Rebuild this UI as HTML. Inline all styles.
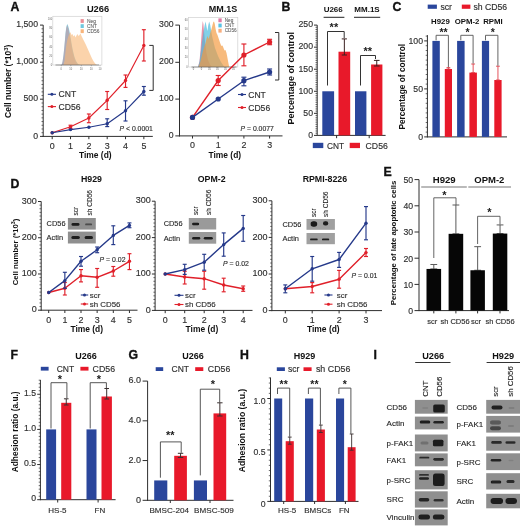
<!DOCTYPE html><html><head><meta charset="utf-8"><style>html,body{margin:0;padding:0;background:#fff;overflow:hidden;}svg{display:block;}</style></head><body><svg width="520" height="526" viewBox="0 0 520 526" font-family='"Liberation Sans", Arial, sans-serif'><defs><filter id="bl" x="-30%" y="-60%" width="160%" height="220%"><feGaussianBlur stdDeviation="0.6"/></filter></defs><rect width="520" height="526" fill="#fff"/>
<text x="10.5" y="11.2" font-size="12.3" font-weight="bold" text-anchor="start" fill="#111" stroke="#111" stroke-width="0.35">A</text>
<text x="98" y="12" font-size="9.3" font-weight="bold" text-anchor="middle" fill="#111">U266</text>
<text x="223" y="12" font-size="9.0" font-weight="bold" text-anchor="middle" fill="#111">MM.1S</text>
<rect x="52.8" y="16.3" width="49.1" height="48.7" fill="#ffffff" stroke="#d0d0d0" stroke-width="0.7"/>
<text x="52.2" y="19.7" font-size="2.6" font-weight="normal" text-anchor="end" fill="#666">100</text>
<text x="52.2" y="29.4" font-size="2.6" font-weight="normal" text-anchor="end" fill="#666">80</text>
<text x="52.2" y="38.4" font-size="2.6" font-weight="normal" text-anchor="end" fill="#666">60</text>
<text x="52.2" y="47.8" font-size="2.6" font-weight="normal" text-anchor="end" fill="#666">40</text>
<text x="52.2" y="57.1" font-size="2.6" font-weight="normal" text-anchor="end" fill="#666">20</text>
<text x="52.2" y="65.9" font-size="2.6" font-weight="normal" text-anchor="end" fill="#666">0</text>
<text x="61.3" y="69.6" font-size="2.6" font-weight="normal" text-anchor="middle" fill="#666">0</text>
<text x="70.8" y="69.6" font-size="2.6" font-weight="normal" text-anchor="middle" fill="#666">10</text>
<text x="81.3" y="69.6" font-size="2.6" font-weight="normal" text-anchor="middle" fill="#666">10</text>
<text x="91.3" y="69.6" font-size="2.6" font-weight="normal" text-anchor="middle" fill="#666">10</text>
<text x="100" y="69.6" font-size="2.6" font-weight="normal" text-anchor="middle" fill="#666">10</text>
<polygon points="61.5,65 62.5,62 63.5,55 64.5,45 65.5,33 66.3,27 67.2,24 68,25.5 69,29 70,34 71,40 72,46 73,51 74.5,57 76,61 78,64 80,65" fill="#6fb2c8" fill-opacity="0.75"/>
<polygon points="61.5,65 62.5,62 63.5,56 64.5,46 65.5,35 66.3,28.5 67,26 67.8,27 68.8,31 70,37 71,43 72,49 73,54 74.5,59 76,62.5 78,65" fill="#d08f96" fill-opacity="0.45"/>
<polygon points="63.5,65 64.5,61 65.5,52 66.5,44 67.5,39 68.5,36 69.5,33.5 70.5,32.3 71.5,35 72.5,34 73.5,36.5 74.5,35 75.5,37.5 76.5,35.5 77.5,34 78.5,36 79.5,35 80.5,33.5 81.5,36 82.5,38 84,41 86,45 88,49.5 90,54 92,58.5 94,62 96,64.5 97,65" fill="#f8b878" fill-opacity="0.62"/>
<line x1="55.5" y1="65" x2="99" y2="65" stroke="#555" stroke-width="0.6"/>
<line x1="61.3" y1="65" x2="61.3" y2="66.2" stroke="#777" stroke-width="0.5"/>
<line x1="70.8" y1="65" x2="70.8" y2="66.2" stroke="#777" stroke-width="0.5"/>
<line x1="81.3" y1="65" x2="81.3" y2="66.2" stroke="#777" stroke-width="0.5"/>
<line x1="91.3" y1="65" x2="91.3" y2="66.2" stroke="#777" stroke-width="0.5"/>
<line x1="100" y1="65" x2="100" y2="66.2" stroke="#777" stroke-width="0.5"/>
<rect x="80.6" y="19.1" width="3.2" height="3.8" fill="#ec8d96" stroke="none" stroke-width="0"/>
<text x="86.9" y="22.75" font-size="4.9" font-weight="normal" text-anchor="start" fill="#555" stroke="#555" stroke-width="0.05">Neg</text>
<rect x="80.6" y="24.2" width="3.2" height="3.8" fill="#70c8df" stroke="none" stroke-width="0"/>
<text x="86.9" y="27.85" font-size="4.9" font-weight="normal" text-anchor="start" fill="#555" stroke="#555" stroke-width="0.05">CNT</text>
<rect x="80.6" y="29.3" width="3.2" height="3.8" fill="#f8b47a" stroke="none" stroke-width="0"/>
<text x="86.9" y="32.95" font-size="4.9" font-weight="normal" text-anchor="start" fill="#555" stroke="#555" stroke-width="0.05">CD56</text>
<line x1="43.2" y1="25.1" x2="43.2" y2="136.9" stroke="#2e2e2e" stroke-width="1.0"/>
<line x1="40" y1="25.1" x2="43.2" y2="25.1" stroke="#2e2e2e" stroke-width="1.0"/>
<text x="38" y="27.31" font-size="8.7" font-weight="normal" text-anchor="end" fill="#303030" stroke="#303030" stroke-width="0.15">1,500</text>
<line x1="40" y1="62.2" x2="43.2" y2="62.2" stroke="#2e2e2e" stroke-width="1.0"/>
<text x="38" y="64.41" font-size="8.7" font-weight="normal" text-anchor="end" fill="#303030" stroke="#303030" stroke-width="0.15">1,000</text>
<line x1="40" y1="99.2" x2="43.2" y2="99.2" stroke="#2e2e2e" stroke-width="1.0"/>
<text x="38" y="101.41" font-size="8.7" font-weight="normal" text-anchor="end" fill="#303030" stroke="#303030" stroke-width="0.15">500</text>
<line x1="40" y1="136.4" x2="43.2" y2="136.4" stroke="#2e2e2e" stroke-width="1.0"/>
<text x="38" y="138.61" font-size="8.7" font-weight="normal" text-anchor="end" fill="#303030" stroke="#303030" stroke-width="0.15">0</text>
<line x1="41.5" y1="132.69" x2="43.2" y2="132.69" stroke="#2e2e2e" stroke-width="0.7"/>
<line x1="41.5" y1="128.98" x2="43.2" y2="128.98" stroke="#2e2e2e" stroke-width="0.7"/>
<line x1="41.5" y1="125.27" x2="43.2" y2="125.27" stroke="#2e2e2e" stroke-width="0.7"/>
<line x1="41.5" y1="121.56" x2="43.2" y2="121.56" stroke="#2e2e2e" stroke-width="0.7"/>
<line x1="41.5" y1="117.85" x2="43.2" y2="117.85" stroke="#2e2e2e" stroke-width="0.7"/>
<line x1="41.5" y1="114.14" x2="43.2" y2="114.14" stroke="#2e2e2e" stroke-width="0.7"/>
<line x1="41.5" y1="110.43" x2="43.2" y2="110.43" stroke="#2e2e2e" stroke-width="0.7"/>
<line x1="41.5" y1="106.72" x2="43.2" y2="106.72" stroke="#2e2e2e" stroke-width="0.7"/>
<line x1="41.5" y1="103.01" x2="43.2" y2="103.01" stroke="#2e2e2e" stroke-width="0.7"/>
<line x1="41.5" y1="95.59" x2="43.2" y2="95.59" stroke="#2e2e2e" stroke-width="0.7"/>
<line x1="41.5" y1="91.88" x2="43.2" y2="91.88" stroke="#2e2e2e" stroke-width="0.7"/>
<line x1="41.5" y1="88.17" x2="43.2" y2="88.17" stroke="#2e2e2e" stroke-width="0.7"/>
<line x1="41.5" y1="84.46" x2="43.2" y2="84.46" stroke="#2e2e2e" stroke-width="0.7"/>
<line x1="41.5" y1="80.75" x2="43.2" y2="80.75" stroke="#2e2e2e" stroke-width="0.7"/>
<line x1="41.5" y1="77.04" x2="43.2" y2="77.04" stroke="#2e2e2e" stroke-width="0.7"/>
<line x1="41.5" y1="73.33" x2="43.2" y2="73.33" stroke="#2e2e2e" stroke-width="0.7"/>
<line x1="41.5" y1="69.62" x2="43.2" y2="69.62" stroke="#2e2e2e" stroke-width="0.7"/>
<line x1="41.5" y1="65.91" x2="43.2" y2="65.91" stroke="#2e2e2e" stroke-width="0.7"/>
<line x1="41.5" y1="58.49" x2="43.2" y2="58.49" stroke="#2e2e2e" stroke-width="0.7"/>
<line x1="41.5" y1="54.78" x2="43.2" y2="54.78" stroke="#2e2e2e" stroke-width="0.7"/>
<line x1="41.5" y1="51.07" x2="43.2" y2="51.07" stroke="#2e2e2e" stroke-width="0.7"/>
<line x1="41.5" y1="47.36" x2="43.2" y2="47.36" stroke="#2e2e2e" stroke-width="0.7"/>
<line x1="41.5" y1="43.65" x2="43.2" y2="43.65" stroke="#2e2e2e" stroke-width="0.7"/>
<line x1="41.5" y1="39.94" x2="43.2" y2="39.94" stroke="#2e2e2e" stroke-width="0.7"/>
<line x1="41.5" y1="36.23" x2="43.2" y2="36.23" stroke="#2e2e2e" stroke-width="0.7"/>
<line x1="41.5" y1="32.52" x2="43.2" y2="32.52" stroke="#2e2e2e" stroke-width="0.7"/>
<line x1="41.5" y1="28.81" x2="43.2" y2="28.81" stroke="#2e2e2e" stroke-width="0.7"/>
<line x1="42.5" y1="136.4" x2="152.8" y2="136.4" stroke="#2e2e2e" stroke-width="1.0"/>
<line x1="52.2" y1="136.4" x2="52.2" y2="139.2" stroke="#2e2e2e" stroke-width="1.0"/>
<text x="52.2" y="148.59" font-size="8.9" font-weight="normal" text-anchor="middle" fill="#303030" stroke="#303030" stroke-width="0.15">0</text>
<line x1="70.53" y1="136.4" x2="70.53" y2="139.2" stroke="#2e2e2e" stroke-width="1.0"/>
<text x="70.53" y="148.59" font-size="8.9" font-weight="normal" text-anchor="middle" fill="#303030" stroke="#303030" stroke-width="0.15">1</text>
<line x1="88.86" y1="136.4" x2="88.86" y2="139.2" stroke="#2e2e2e" stroke-width="1.0"/>
<text x="88.86" y="148.59" font-size="8.9" font-weight="normal" text-anchor="middle" fill="#303030" stroke="#303030" stroke-width="0.15">2</text>
<line x1="107.19" y1="136.4" x2="107.19" y2="139.2" stroke="#2e2e2e" stroke-width="1.0"/>
<text x="107.19" y="148.59" font-size="8.9" font-weight="normal" text-anchor="middle" fill="#303030" stroke="#303030" stroke-width="0.15">3</text>
<line x1="125.52" y1="136.4" x2="125.52" y2="139.2" stroke="#2e2e2e" stroke-width="1.0"/>
<text x="125.52" y="148.59" font-size="8.9" font-weight="normal" text-anchor="middle" fill="#303030" stroke="#303030" stroke-width="0.15">4</text>
<line x1="143.85" y1="136.4" x2="143.85" y2="139.2" stroke="#2e2e2e" stroke-width="1.0"/>
<text x="143.85" y="148.59" font-size="8.9" font-weight="normal" text-anchor="middle" fill="#303030" stroke="#303030" stroke-width="0.15">5</text>
<text x="95.3" y="158.1" font-size="8.45" font-weight="bold" text-anchor="middle" fill="#111">Time (d)</text>
<text x="11.3" y="117.9" font-size="8.5" font-weight="bold" text-anchor="start" fill="#111" transform="rotate(-90 11.3 117.9)">Cell number (*10<tspan font-size="5.8" dy="-3.2">3</tspan><tspan dy="3.2">)</tspan></text>
<polyline points="52.2,132.7 70.53,126.8 88.86,118 107.19,100.3 125.52,80.5 143.85,45.4" fill="none" stroke="#e0202a" stroke-width="1.15" stroke-linejoin="round"/>
<circle cx="52.2" cy="132.7" r="1.7" fill="#e0202a"/>
<line x1="70.53" y1="125.2" x2="70.53" y2="128.4" stroke="#e0202a" stroke-width="1.15"/>
<line x1="68.53" y1="125.2" x2="72.53" y2="125.2" stroke="#e0202a" stroke-width="1.15"/>
<line x1="68.53" y1="128.4" x2="72.53" y2="128.4" stroke="#e0202a" stroke-width="1.15"/>
<circle cx="70.53" cy="126.8" r="1.7" fill="#e0202a"/>
<line x1="88.86" y1="114" x2="88.86" y2="122.7" stroke="#e0202a" stroke-width="1.15"/>
<line x1="86.86" y1="114" x2="90.86" y2="114" stroke="#e0202a" stroke-width="1.15"/>
<line x1="86.86" y1="122.7" x2="90.86" y2="122.7" stroke="#e0202a" stroke-width="1.15"/>
<circle cx="88.86" cy="118" r="1.7" fill="#e0202a"/>
<line x1="107.19" y1="91.5" x2="107.19" y2="109.5" stroke="#e0202a" stroke-width="1.15"/>
<line x1="105.19" y1="91.5" x2="109.19" y2="91.5" stroke="#e0202a" stroke-width="1.15"/>
<line x1="105.19" y1="109.5" x2="109.19" y2="109.5" stroke="#e0202a" stroke-width="1.15"/>
<circle cx="107.19" cy="100.3" r="1.7" fill="#e0202a"/>
<line x1="125.52" y1="75" x2="125.52" y2="87.4" stroke="#e0202a" stroke-width="1.15"/>
<line x1="123.52" y1="75" x2="127.52" y2="75" stroke="#e0202a" stroke-width="1.15"/>
<line x1="123.52" y1="87.4" x2="127.52" y2="87.4" stroke="#e0202a" stroke-width="1.15"/>
<circle cx="125.52" cy="80.5" r="1.7" fill="#e0202a"/>
<line x1="143.85" y1="29.7" x2="143.85" y2="61" stroke="#e0202a" stroke-width="1.15"/>
<line x1="141.85" y1="29.7" x2="145.85" y2="29.7" stroke="#e0202a" stroke-width="1.15"/>
<line x1="141.85" y1="61" x2="145.85" y2="61" stroke="#e0202a" stroke-width="1.15"/>
<circle cx="143.85" cy="45.4" r="1.7" fill="#e0202a"/>
<polyline points="52.2,132.7 70.53,129.6 88.86,127.3 107.19,123.8 125.52,110.7 143.85,91.5" fill="none" stroke="#25398a" stroke-width="1.15" stroke-linejoin="round"/>
<circle cx="52.2" cy="132.7" r="1.7" fill="#25398a"/>
<circle cx="70.53" cy="129.6" r="1.7" fill="#25398a"/>
<circle cx="88.86" cy="127.3" r="1.7" fill="#25398a"/>
<line x1="107.19" y1="118.8" x2="107.19" y2="126.6" stroke="#25398a" stroke-width="1.15"/>
<line x1="105.19" y1="118.8" x2="109.19" y2="118.8" stroke="#25398a" stroke-width="1.15"/>
<line x1="105.19" y1="126.6" x2="109.19" y2="126.6" stroke="#25398a" stroke-width="1.15"/>
<circle cx="107.19" cy="123.8" r="1.7" fill="#25398a"/>
<line x1="125.52" y1="100.8" x2="125.52" y2="121" stroke="#25398a" stroke-width="1.15"/>
<line x1="123.52" y1="100.8" x2="127.52" y2="100.8" stroke="#25398a" stroke-width="1.15"/>
<line x1="123.52" y1="121" x2="127.52" y2="121" stroke="#25398a" stroke-width="1.15"/>
<circle cx="125.52" cy="110.7" r="1.7" fill="#25398a"/>
<line x1="143.85" y1="86.5" x2="143.85" y2="95.2" stroke="#25398a" stroke-width="1.15"/>
<line x1="141.85" y1="86.5" x2="145.85" y2="86.5" stroke="#25398a" stroke-width="1.15"/>
<line x1="141.85" y1="95.2" x2="145.85" y2="95.2" stroke="#25398a" stroke-width="1.15"/>
<circle cx="143.85" cy="91.5" r="1.7" fill="#25398a"/>
<line x1="47.8" y1="94.3" x2="56" y2="94.3" stroke="#25398a" stroke-width="1.1"/>
<circle cx="51.9" cy="94.3" r="1.5" fill="#25398a"/>
<text x="58.6" y="97.38" font-size="8.6" font-weight="normal" text-anchor="start" fill="#303030" stroke="#303030" stroke-width="0.15">CNT</text>
<line x1="47.8" y1="106.6" x2="56" y2="106.6" stroke="#e0202a" stroke-width="1.1"/>
<circle cx="51.9" cy="106.6" r="1.5" fill="#e0202a"/>
<text x="58.6" y="109.68" font-size="8.6" font-weight="normal" text-anchor="start" fill="#303030" stroke="#303030" stroke-width="0.15">CD56</text>
<text x="119.5" y="131.15" font-size="6.85" font-weight="normal" text-anchor="start" fill="#303030" stroke="#303030" stroke-width="0.15"><tspan font-style="italic">P</tspan> &lt; 0.0001</text>
<polyline points="149.3,45.4 153.2,45.4 153.2,90.4 149.3,90.4" fill="none" stroke="#2e2e2e" stroke-width="1.0" stroke-linejoin="round"/>
<rect x="188.4" y="17.4" width="49.4" height="49.6" fill="#ffffff" stroke="#d0d0d0" stroke-width="0.7"/>
<text x="187.6" y="20.7" font-size="2.6" font-weight="normal" text-anchor="end" fill="#666">60</text>
<text x="187.6" y="30.1" font-size="2.6" font-weight="normal" text-anchor="end" fill="#666">50</text>
<text x="187.6" y="39.5" font-size="2.6" font-weight="normal" text-anchor="end" fill="#666">40</text>
<text x="187.6" y="48.9" font-size="2.6" font-weight="normal" text-anchor="end" fill="#666">30</text>
<text x="187.6" y="58.3" font-size="2.6" font-weight="normal" text-anchor="end" fill="#666">20</text>
<text x="187.6" y="67.7" font-size="2.6" font-weight="normal" text-anchor="end" fill="#666">0</text>
<text x="193.5" y="70" font-size="2.6" font-weight="normal" text-anchor="middle" fill="#666">0</text>
<text x="201.5" y="70" font-size="2.6" font-weight="normal" text-anchor="middle" fill="#666">0</text>
<text x="209.5" y="70" font-size="2.6" font-weight="normal" text-anchor="middle" fill="#666">10</text>
<text x="217.5" y="70" font-size="2.6" font-weight="normal" text-anchor="middle" fill="#666">10</text>
<text x="225.5" y="70" font-size="2.6" font-weight="normal" text-anchor="middle" fill="#666">10</text>
<text x="233.5" y="70" font-size="2.6" font-weight="normal" text-anchor="middle" fill="#666">10</text>
<polygon points="198,67 199.5,61 200.5,50 201.3,38 202.1,27 202.7,21 203.4,24 204.2,33 205.2,44 206.5,53 208,60 210,64.5 212,67" fill="#e0708e" fill-opacity="0.75"/>
<polygon points="198,67 199.5,62 200.8,52 202,42 203.3,33 204.5,26 205.6,21.5 206.6,27 207.4,31 208.3,25 209.2,21.5 210.2,25 211.2,31 212.3,37 213.5,42 215,48 216.5,52 218,56 219.5,59 221,62 223,65 224.5,67" fill="#3fb8dc" fill-opacity="0.65"/>
<polygon points="198.5,67 200,63 201.5,57 203,51 204.5,46 205.5,43 206.5,39 207.5,36 208.5,39 209.5,36 210.5,32 211.5,29 212.5,25 213.3,22 214,21.5 214.8,24 215.6,29 216.5,33 217.5,35 218.5,38 219.5,41 220.5,44 221.5,46 222.5,45.5 223.5,48 224.5,50.5 225.5,50 226.5,53 227.3,57 228.2,62 229.2,67" fill="#f39a3e" fill-opacity="0.68"/>
<line x1="191.5" y1="67" x2="236.5" y2="67" stroke="#555" stroke-width="0.6"/>
<line x1="193.5" y1="67" x2="193.5" y2="68.2" stroke="#777" stroke-width="0.5"/>
<line x1="201.5" y1="67" x2="201.5" y2="68.2" stroke="#777" stroke-width="0.5"/>
<line x1="209.5" y1="67" x2="209.5" y2="68.2" stroke="#777" stroke-width="0.5"/>
<line x1="217.5" y1="67" x2="217.5" y2="68.2" stroke="#777" stroke-width="0.5"/>
<line x1="225.5" y1="67" x2="225.5" y2="68.2" stroke="#777" stroke-width="0.5"/>
<line x1="233.5" y1="67" x2="233.5" y2="68.2" stroke="#777" stroke-width="0.5"/>
<rect x="218.4" y="18.4" width="3.3" height="3.8" fill="#e07aa4" stroke="none" stroke-width="0"/>
<text x="224.7" y="21.98" font-size="4.7" font-weight="normal" text-anchor="start" fill="#555" stroke="#555" stroke-width="0.05">Neg</text>
<rect x="218.4" y="23.6" width="3.3" height="3.8" fill="#58c2e4" stroke="none" stroke-width="0"/>
<text x="224.7" y="27.18" font-size="4.7" font-weight="normal" text-anchor="start" fill="#555" stroke="#555" stroke-width="0.05">CNT</text>
<rect x="218.4" y="28.8" width="3.3" height="3.8" fill="#f8ae7e" stroke="none" stroke-width="0"/>
<text x="224.7" y="32.38" font-size="4.7" font-weight="normal" text-anchor="start" fill="#555" stroke="#555" stroke-width="0.05">CD56</text>
<line x1="179.5" y1="25.1" x2="179.5" y2="136.4" stroke="#2e2e2e" stroke-width="1.0"/>
<line x1="175.3" y1="25.1" x2="179.5" y2="25.1" stroke="#2e2e2e" stroke-width="1.0"/>
<text x="173.6" y="27.21" font-size="8.7" font-weight="normal" text-anchor="end" fill="#303030" stroke="#303030" stroke-width="0.15">300</text>
<line x1="175.3" y1="62.3" x2="179.5" y2="62.3" stroke="#2e2e2e" stroke-width="1.0"/>
<text x="173.6" y="64.41" font-size="8.7" font-weight="normal" text-anchor="end" fill="#303030" stroke="#303030" stroke-width="0.15">200</text>
<line x1="175.3" y1="99.1" x2="179.5" y2="99.1" stroke="#2e2e2e" stroke-width="1.0"/>
<text x="173.6" y="101.21" font-size="8.7" font-weight="normal" text-anchor="end" fill="#303030" stroke="#303030" stroke-width="0.15">100</text>
<line x1="175.3" y1="135.9" x2="179.5" y2="135.9" stroke="#2e2e2e" stroke-width="1.0"/>
<text x="173.6" y="138.01" font-size="8.7" font-weight="normal" text-anchor="end" fill="#303030" stroke="#303030" stroke-width="0.15">0</text>
<line x1="178.9" y1="135.9" x2="282.5" y2="135.9" stroke="#2e2e2e" stroke-width="1.0"/>
<line x1="192.5" y1="135.9" x2="192.5" y2="138.5" stroke="#2e2e2e" stroke-width="1.0"/>
<text x="192.5" y="147.79" font-size="8.9" font-weight="normal" text-anchor="middle" fill="#303030" stroke="#303030" stroke-width="0.15">0</text>
<line x1="218.2" y1="135.9" x2="218.2" y2="138.5" stroke="#2e2e2e" stroke-width="1.0"/>
<text x="218.2" y="147.79" font-size="8.9" font-weight="normal" text-anchor="middle" fill="#303030" stroke="#303030" stroke-width="0.15">1</text>
<line x1="243.9" y1="135.9" x2="243.9" y2="138.5" stroke="#2e2e2e" stroke-width="1.0"/>
<text x="243.9" y="147.79" font-size="8.9" font-weight="normal" text-anchor="middle" fill="#303030" stroke="#303030" stroke-width="0.15">2</text>
<line x1="269.6" y1="135.9" x2="269.6" y2="138.5" stroke="#2e2e2e" stroke-width="1.0"/>
<text x="269.6" y="147.79" font-size="8.9" font-weight="normal" text-anchor="middle" fill="#303030" stroke="#303030" stroke-width="0.15">3</text>
<text x="224.8" y="158.3" font-size="8.45" font-weight="bold" text-anchor="middle" fill="#111">Time (d)</text>
<polyline points="192.5,117.4 218.2,80.5 243.9,55 269.6,42" fill="none" stroke="#e0202a" stroke-width="1.4" stroke-linejoin="round"/>
<circle cx="192.5" cy="117.4" r="2.6" fill="#e0202a"/>
<line x1="218.2" y1="75.5" x2="218.2" y2="85.5" stroke="#e0202a" stroke-width="1.15"/>
<line x1="215.7" y1="75.5" x2="220.7" y2="75.5" stroke="#e0202a" stroke-width="1.15"/>
<line x1="215.7" y1="85.5" x2="220.7" y2="85.5" stroke="#e0202a" stroke-width="1.15"/>
<circle cx="218.2" cy="80.5" r="2.6" fill="#e0202a"/>
<line x1="243.9" y1="44" x2="243.9" y2="65.8" stroke="#e0202a" stroke-width="1.15"/>
<line x1="241.4" y1="44" x2="246.4" y2="44" stroke="#e0202a" stroke-width="1.15"/>
<line x1="241.4" y1="65.8" x2="246.4" y2="65.8" stroke="#e0202a" stroke-width="1.15"/>
<circle cx="243.9" cy="55" r="2.6" fill="#e0202a"/>
<line x1="269.6" y1="39.3" x2="269.6" y2="44.7" stroke="#e0202a" stroke-width="1.15"/>
<line x1="267.1" y1="39.3" x2="272.1" y2="39.3" stroke="#e0202a" stroke-width="1.15"/>
<line x1="267.1" y1="44.7" x2="272.1" y2="44.7" stroke="#e0202a" stroke-width="1.15"/>
<circle cx="269.6" cy="42" r="2.6" fill="#e0202a"/>
<polyline points="192.5,117.4 218.2,99 243.9,80.7 269.6,72" fill="none" stroke="#25398a" stroke-width="1.4" stroke-linejoin="round"/>
<circle cx="192.5" cy="117.4" r="2.6" fill="#25398a"/>
<circle cx="218.2" cy="99" r="2.6" fill="#25398a"/>
<line x1="243.9" y1="77.2" x2="243.9" y2="85.8" stroke="#25398a" stroke-width="1.15"/>
<line x1="241.4" y1="77.2" x2="246.4" y2="77.2" stroke="#25398a" stroke-width="1.15"/>
<line x1="241.4" y1="85.8" x2="246.4" y2="85.8" stroke="#25398a" stroke-width="1.15"/>
<circle cx="243.9" cy="80.7" r="2.6" fill="#25398a"/>
<line x1="269.6" y1="69" x2="269.6" y2="75" stroke="#25398a" stroke-width="1.15"/>
<line x1="267.1" y1="69" x2="272.1" y2="69" stroke="#25398a" stroke-width="1.15"/>
<line x1="267.1" y1="75" x2="272.1" y2="75" stroke="#25398a" stroke-width="1.15"/>
<circle cx="269.6" cy="72" r="2.6" fill="#25398a"/>
<line x1="238" y1="94.5" x2="246" y2="94.5" stroke="#25398a" stroke-width="1.1"/>
<circle cx="242" cy="94.5" r="1.5" fill="#25398a"/>
<text x="248.2" y="97.58" font-size="8.6" font-weight="normal" text-anchor="start" fill="#303030" stroke="#303030" stroke-width="0.15">CNT</text>
<line x1="238" y1="107.5" x2="246" y2="107.5" stroke="#e0202a" stroke-width="1.1"/>
<circle cx="242" cy="107.5" r="1.5" fill="#e0202a"/>
<text x="248.2" y="110.58" font-size="8.6" font-weight="normal" text-anchor="start" fill="#303030" stroke="#303030" stroke-width="0.15">CD56</text>
<text x="240.5" y="131.15" font-size="6.85" font-weight="normal" text-anchor="start" fill="#303030" stroke="#303030" stroke-width="0.15"><tspan font-style="italic">P</tspan> = 0.0077</text>
<polyline points="275,32.5 278.8,32.5 278.8,80 275,80" fill="none" stroke="#2e2e2e" stroke-width="1.0" stroke-linejoin="round"/>
<text x="281.4" y="10.9" font-size="12.3" font-weight="bold" text-anchor="start" fill="#111" stroke="#111" stroke-width="0.35">B</text>
<text x="333.2" y="12.2" font-size="8.0" font-weight="bold" text-anchor="middle" fill="#111">U266</text>
<text x="367" y="12.2" font-size="8.0" font-weight="bold" text-anchor="middle" fill="#111">MM.1S</text>
<line x1="323.6" y1="17.3" x2="344.4" y2="17.3" stroke="#222" stroke-width="1.0"/>
<line x1="354" y1="17.3" x2="380.2" y2="17.3" stroke="#222" stroke-width="1.0"/>
<line x1="317.2" y1="25.1" x2="317.2" y2="135.9" stroke="#2e2e2e" stroke-width="1.0"/>
<line x1="314" y1="25.1" x2="317.2" y2="25.1" stroke="#2e2e2e" stroke-width="1.0"/>
<text x="313" y="27.41" font-size="8.7" font-weight="normal" text-anchor="end" fill="#303030" stroke="#303030" stroke-width="0.15">250</text>
<line x1="314" y1="47.16" x2="317.2" y2="47.16" stroke="#2e2e2e" stroke-width="1.0"/>
<text x="313" y="49.47" font-size="8.7" font-weight="normal" text-anchor="end" fill="#303030" stroke="#303030" stroke-width="0.15">200</text>
<line x1="314" y1="69.22" x2="317.2" y2="69.22" stroke="#2e2e2e" stroke-width="1.0"/>
<text x="313" y="71.53" font-size="8.7" font-weight="normal" text-anchor="end" fill="#303030" stroke="#303030" stroke-width="0.15">150</text>
<line x1="314" y1="91.28" x2="317.2" y2="91.28" stroke="#2e2e2e" stroke-width="1.0"/>
<text x="313" y="93.59" font-size="8.7" font-weight="normal" text-anchor="end" fill="#303030" stroke="#303030" stroke-width="0.15">100</text>
<line x1="314" y1="113.34" x2="317.2" y2="113.34" stroke="#2e2e2e" stroke-width="1.0"/>
<text x="313" y="115.65" font-size="8.7" font-weight="normal" text-anchor="end" fill="#303030" stroke="#303030" stroke-width="0.15">50</text>
<line x1="314" y1="135.4" x2="317.2" y2="135.4" stroke="#2e2e2e" stroke-width="1.0"/>
<text x="313" y="137.71" font-size="8.7" font-weight="normal" text-anchor="end" fill="#303030" stroke="#303030" stroke-width="0.15">0</text>
<line x1="315.5" y1="133.19" x2="317.2" y2="133.19" stroke="#2e2e2e" stroke-width="0.7"/>
<line x1="315.5" y1="130.99" x2="317.2" y2="130.99" stroke="#2e2e2e" stroke-width="0.7"/>
<line x1="315.5" y1="128.78" x2="317.2" y2="128.78" stroke="#2e2e2e" stroke-width="0.7"/>
<line x1="315.5" y1="126.58" x2="317.2" y2="126.58" stroke="#2e2e2e" stroke-width="0.7"/>
<line x1="315.5" y1="124.37" x2="317.2" y2="124.37" stroke="#2e2e2e" stroke-width="0.7"/>
<line x1="315.5" y1="122.16" x2="317.2" y2="122.16" stroke="#2e2e2e" stroke-width="0.7"/>
<line x1="315.5" y1="119.96" x2="317.2" y2="119.96" stroke="#2e2e2e" stroke-width="0.7"/>
<line x1="315.5" y1="117.75" x2="317.2" y2="117.75" stroke="#2e2e2e" stroke-width="0.7"/>
<line x1="315.5" y1="115.55" x2="317.2" y2="115.55" stroke="#2e2e2e" stroke-width="0.7"/>
<line x1="315.5" y1="111.13" x2="317.2" y2="111.13" stroke="#2e2e2e" stroke-width="0.7"/>
<line x1="315.5" y1="108.93" x2="317.2" y2="108.93" stroke="#2e2e2e" stroke-width="0.7"/>
<line x1="315.5" y1="106.72" x2="317.2" y2="106.72" stroke="#2e2e2e" stroke-width="0.7"/>
<line x1="315.5" y1="104.52" x2="317.2" y2="104.52" stroke="#2e2e2e" stroke-width="0.7"/>
<line x1="315.5" y1="102.31" x2="317.2" y2="102.31" stroke="#2e2e2e" stroke-width="0.7"/>
<line x1="315.5" y1="100.1" x2="317.2" y2="100.1" stroke="#2e2e2e" stroke-width="0.7"/>
<line x1="315.5" y1="97.9" x2="317.2" y2="97.9" stroke="#2e2e2e" stroke-width="0.7"/>
<line x1="315.5" y1="95.69" x2="317.2" y2="95.69" stroke="#2e2e2e" stroke-width="0.7"/>
<line x1="315.5" y1="93.49" x2="317.2" y2="93.49" stroke="#2e2e2e" stroke-width="0.7"/>
<line x1="315.5" y1="89.07" x2="317.2" y2="89.07" stroke="#2e2e2e" stroke-width="0.7"/>
<line x1="315.5" y1="86.87" x2="317.2" y2="86.87" stroke="#2e2e2e" stroke-width="0.7"/>
<line x1="315.5" y1="84.66" x2="317.2" y2="84.66" stroke="#2e2e2e" stroke-width="0.7"/>
<line x1="315.5" y1="82.46" x2="317.2" y2="82.46" stroke="#2e2e2e" stroke-width="0.7"/>
<line x1="315.5" y1="80.25" x2="317.2" y2="80.25" stroke="#2e2e2e" stroke-width="0.7"/>
<line x1="315.5" y1="78.04" x2="317.2" y2="78.04" stroke="#2e2e2e" stroke-width="0.7"/>
<line x1="315.5" y1="75.84" x2="317.2" y2="75.84" stroke="#2e2e2e" stroke-width="0.7"/>
<line x1="315.5" y1="73.63" x2="317.2" y2="73.63" stroke="#2e2e2e" stroke-width="0.7"/>
<line x1="315.5" y1="71.43" x2="317.2" y2="71.43" stroke="#2e2e2e" stroke-width="0.7"/>
<line x1="315.5" y1="67.01" x2="317.2" y2="67.01" stroke="#2e2e2e" stroke-width="0.7"/>
<line x1="315.5" y1="64.81" x2="317.2" y2="64.81" stroke="#2e2e2e" stroke-width="0.7"/>
<line x1="315.5" y1="62.6" x2="317.2" y2="62.6" stroke="#2e2e2e" stroke-width="0.7"/>
<line x1="315.5" y1="60.4" x2="317.2" y2="60.4" stroke="#2e2e2e" stroke-width="0.7"/>
<line x1="315.5" y1="58.19" x2="317.2" y2="58.19" stroke="#2e2e2e" stroke-width="0.7"/>
<line x1="315.5" y1="55.98" x2="317.2" y2="55.98" stroke="#2e2e2e" stroke-width="0.7"/>
<line x1="315.5" y1="53.78" x2="317.2" y2="53.78" stroke="#2e2e2e" stroke-width="0.7"/>
<line x1="315.5" y1="51.57" x2="317.2" y2="51.57" stroke="#2e2e2e" stroke-width="0.7"/>
<line x1="315.5" y1="49.37" x2="317.2" y2="49.37" stroke="#2e2e2e" stroke-width="0.7"/>
<line x1="315.5" y1="44.95" x2="317.2" y2="44.95" stroke="#2e2e2e" stroke-width="0.7"/>
<line x1="315.5" y1="42.75" x2="317.2" y2="42.75" stroke="#2e2e2e" stroke-width="0.7"/>
<line x1="315.5" y1="40.54" x2="317.2" y2="40.54" stroke="#2e2e2e" stroke-width="0.7"/>
<line x1="315.5" y1="38.34" x2="317.2" y2="38.34" stroke="#2e2e2e" stroke-width="0.7"/>
<line x1="315.5" y1="36.13" x2="317.2" y2="36.13" stroke="#2e2e2e" stroke-width="0.7"/>
<line x1="315.5" y1="33.92" x2="317.2" y2="33.92" stroke="#2e2e2e" stroke-width="0.7"/>
<line x1="315.5" y1="31.72" x2="317.2" y2="31.72" stroke="#2e2e2e" stroke-width="0.7"/>
<line x1="315.5" y1="29.51" x2="317.2" y2="29.51" stroke="#2e2e2e" stroke-width="0.7"/>
<line x1="315.5" y1="27.31" x2="317.2" y2="27.31" stroke="#2e2e2e" stroke-width="0.7"/>
<line x1="317.2" y1="135.4" x2="385.6" y2="135.4" stroke="#2e2e2e" stroke-width="1.0"/>
<text x="293.7" y="124.6" font-size="9.0" font-weight="bold" text-anchor="start" fill="#111" transform="rotate(-90 293.7 124.6)">Percentage of control</text>
<rect x="322.3" y="91.28" width="11.8" height="44.12" fill="#2a469c" stroke="none" stroke-width="0"/>
<rect x="338.5" y="51.7" width="11.7" height="83.7" fill="#e8192a" stroke="none" stroke-width="0"/>
<rect x="355" y="91.28" width="11.4" height="44.12" fill="#2a469c" stroke="none" stroke-width="0"/>
<rect x="371.1" y="64.5" width="11.3" height="70.9" fill="#e8192a" stroke="none" stroke-width="0"/>
<line x1="344.35" y1="38.9" x2="344.35" y2="55" stroke="#3a2020" stroke-width="1.0"/>
<line x1="341.75" y1="38.9" x2="346.95" y2="38.9" stroke="#3a2020" stroke-width="1.0"/>
<line x1="341.75" y1="55" x2="346.95" y2="55" stroke="#3a2020" stroke-width="1.0"/>
<line x1="376.75" y1="60.4" x2="376.75" y2="66" stroke="#3a2020" stroke-width="1.0"/>
<line x1="373.95" y1="60.4" x2="379.55" y2="60.4" stroke="#3a2020" stroke-width="1.0"/>
<line x1="373.95" y1="66" x2="379.55" y2="66" stroke="#3a2020" stroke-width="1.0"/>
<polyline points="327.5,85.5 327.5,31.5 344.2,31.5 344.2,38" fill="none" stroke="#333" stroke-width="1.0" stroke-linejoin="round"/>
<polyline points="360.5,85.5 360.5,55.5 375.5,55.5 375.5,59" fill="none" stroke="#333" stroke-width="1.0" stroke-linejoin="round"/>
<text x="333.9" y="31.36" font-size="11.0" font-weight="bold" text-anchor="middle" fill="#1a1a1a">**</text>
<text x="367.7" y="54.96" font-size="11.0" font-weight="bold" text-anchor="middle" fill="#1a1a1a">**</text>
<line x1="336.6" y1="135.4" x2="336.6" y2="138.2" stroke="#2e2e2e" stroke-width="1.0"/>
<line x1="369.2" y1="135.4" x2="369.2" y2="138.2" stroke="#2e2e2e" stroke-width="1.0"/>
<rect x="312.8" y="142.8" width="10.5" height="5.3" fill="#2a469c" stroke="none" stroke-width="0"/>
<text x="327" y="148.77" font-size="8.3" font-weight="normal" text-anchor="start" fill="#303030" stroke="#303030" stroke-width="0.15">CNT</text>
<rect x="349.7" y="142.8" width="10.3" height="5.3" fill="#e8192a" stroke="none" stroke-width="0"/>
<text x="365.6" y="148.91" font-size="8.7" font-weight="normal" text-anchor="start" fill="#303030" stroke="#303030" stroke-width="0.15">CD56</text>
<text x="392.6" y="10.9" font-size="12.3" font-weight="bold" text-anchor="start" fill="#111" stroke="#111" stroke-width="0.35">C</text>
<rect x="427.7" y="4.6" width="9.2" height="4.2" fill="#2a469c" stroke="none" stroke-width="0"/>
<text x="440.4" y="10.01" font-size="8.7" font-weight="normal" text-anchor="start" fill="#303030" stroke="#303030" stroke-width="0.15">scr</text>
<rect x="461.8" y="4.6" width="8.6" height="4.2" fill="#e8192a" stroke="none" stroke-width="0"/>
<text x="473.4" y="10.01" font-size="8.7" font-weight="normal" text-anchor="start" fill="#303030" stroke="#303030" stroke-width="0.15">sh CD56</text>
<text x="440.4" y="24" font-size="7.8" font-weight="bold" text-anchor="middle" fill="#111">H929</text>
<text x="467" y="24" font-size="7.8" font-weight="bold" text-anchor="middle" fill="#111">OPM-2</text>
<text x="492.9" y="24" font-size="7.8" font-weight="bold" text-anchor="middle" fill="#111">RPMI</text>
<line x1="427.4" y1="35.1" x2="427.4" y2="137.4" stroke="#2e2e2e" stroke-width="1.0"/>
<line x1="424.2" y1="40.9" x2="427.4" y2="40.9" stroke="#2e2e2e" stroke-width="1.0"/>
<text x="423" y="44.31" font-size="8.7" font-weight="normal" text-anchor="end" fill="#303030" stroke="#303030" stroke-width="0.15">100</text>
<line x1="424.2" y1="88.9" x2="427.4" y2="88.9" stroke="#2e2e2e" stroke-width="1.0"/>
<text x="423" y="92.31" font-size="8.7" font-weight="normal" text-anchor="end" fill="#303030" stroke="#303030" stroke-width="0.15">50</text>
<line x1="424.2" y1="136.9" x2="427.4" y2="136.9" stroke="#2e2e2e" stroke-width="1.0"/>
<text x="423" y="140.31" font-size="8.7" font-weight="normal" text-anchor="end" fill="#303030" stroke="#303030" stroke-width="0.15">0</text>
<line x1="425.7" y1="132.1" x2="427.4" y2="132.1" stroke="#2e2e2e" stroke-width="0.7"/>
<line x1="425.7" y1="127.3" x2="427.4" y2="127.3" stroke="#2e2e2e" stroke-width="0.7"/>
<line x1="425.7" y1="122.5" x2="427.4" y2="122.5" stroke="#2e2e2e" stroke-width="0.7"/>
<line x1="425.7" y1="117.7" x2="427.4" y2="117.7" stroke="#2e2e2e" stroke-width="0.7"/>
<line x1="425.7" y1="112.9" x2="427.4" y2="112.9" stroke="#2e2e2e" stroke-width="0.7"/>
<line x1="425.7" y1="108.1" x2="427.4" y2="108.1" stroke="#2e2e2e" stroke-width="0.7"/>
<line x1="425.7" y1="103.3" x2="427.4" y2="103.3" stroke="#2e2e2e" stroke-width="0.7"/>
<line x1="425.7" y1="98.5" x2="427.4" y2="98.5" stroke="#2e2e2e" stroke-width="0.7"/>
<line x1="425.7" y1="93.7" x2="427.4" y2="93.7" stroke="#2e2e2e" stroke-width="0.7"/>
<line x1="425.7" y1="84.1" x2="427.4" y2="84.1" stroke="#2e2e2e" stroke-width="0.7"/>
<line x1="425.7" y1="79.3" x2="427.4" y2="79.3" stroke="#2e2e2e" stroke-width="0.7"/>
<line x1="425.7" y1="74.5" x2="427.4" y2="74.5" stroke="#2e2e2e" stroke-width="0.7"/>
<line x1="425.7" y1="69.7" x2="427.4" y2="69.7" stroke="#2e2e2e" stroke-width="0.7"/>
<line x1="425.7" y1="64.9" x2="427.4" y2="64.9" stroke="#2e2e2e" stroke-width="0.7"/>
<line x1="425.7" y1="60.1" x2="427.4" y2="60.1" stroke="#2e2e2e" stroke-width="0.7"/>
<line x1="425.7" y1="55.3" x2="427.4" y2="55.3" stroke="#2e2e2e" stroke-width="0.7"/>
<line x1="425.7" y1="50.5" x2="427.4" y2="50.5" stroke="#2e2e2e" stroke-width="0.7"/>
<line x1="425.7" y1="45.7" x2="427.4" y2="45.7" stroke="#2e2e2e" stroke-width="0.7"/>
<line x1="425.7" y1="36.1" x2="427.4" y2="36.1" stroke="#2e2e2e" stroke-width="0.7"/>
<line x1="427.2" y1="136.9" x2="507" y2="136.9" stroke="#2e2e2e" stroke-width="1.0"/>
<text x="405.4" y="129.6" font-size="8.35" font-weight="bold" text-anchor="start" fill="#111" transform="rotate(-90 405.4 129.6)">Percentage of control</text>
<rect x="432.4" y="40.9" width="7.4" height="96" fill="#2a469c" stroke="none" stroke-width="0"/>
<rect x="457.1" y="40.9" width="7.5" height="96" fill="#2a469c" stroke="none" stroke-width="0"/>
<rect x="481.9" y="40.9" width="7.2" height="96" fill="#2a469c" stroke="none" stroke-width="0"/>
<rect x="444.8" y="69" width="7.2" height="67.9" fill="#e8192a" stroke="none" stroke-width="0"/>
<line x1="448.4" y1="67.6" x2="448.4" y2="69" stroke="#e0404a" stroke-width="0.9"/>
<line x1="446.5" y1="67.6" x2="450.3" y2="67.6" stroke="#e0404a" stroke-width="0.9"/>
<line x1="446.5" y1="69" x2="450.3" y2="69" stroke="#e0404a" stroke-width="0.9"/>
<rect x="469.4" y="72.6" width="7.5" height="64.3" fill="#e8192a" stroke="none" stroke-width="0"/>
<line x1="473.15" y1="64" x2="473.15" y2="72.6" stroke="#e0404a" stroke-width="0.9"/>
<line x1="471.25" y1="64" x2="475.05" y2="64" stroke="#e0404a" stroke-width="0.9"/>
<line x1="471.25" y1="72.6" x2="475.05" y2="72.6" stroke="#e0404a" stroke-width="0.9"/>
<rect x="494.3" y="80" width="7.3" height="56.9" fill="#e8192a" stroke="none" stroke-width="0"/>
<line x1="497.95" y1="66.2" x2="497.95" y2="80" stroke="#e0404a" stroke-width="0.9"/>
<line x1="496.05" y1="66.2" x2="499.85" y2="66.2" stroke="#e0404a" stroke-width="0.9"/>
<line x1="496.05" y1="80" x2="499.85" y2="80" stroke="#e0404a" stroke-width="0.9"/>
<polyline points="436.1,40.3 436.1,35.3 448.4,35.3 448.4,67.2" fill="none" stroke="#555" stroke-width="0.9" stroke-linejoin="round"/>
<polyline points="460.8,40.3 460.8,35.3 473.1,35.3 473.1,63.6" fill="none" stroke="#555" stroke-width="0.9" stroke-linejoin="round"/>
<polyline points="485.5,40.3 485.5,35.3 497.9,35.3 497.9,65.8" fill="none" stroke="#555" stroke-width="0.9" stroke-linejoin="round"/>
<text x="443.5" y="35.88" font-size="10.5" font-weight="bold" text-anchor="middle" fill="#1a1a1a">**</text>
<text x="467.5" y="35.88" font-size="10.5" font-weight="bold" text-anchor="middle" fill="#1a1a1a">*</text>
<text x="492.9" y="35.88" font-size="10.5" font-weight="bold" text-anchor="middle" fill="#1a1a1a">*</text>
<text x="10.5" y="187.6" font-size="12.3" font-weight="bold" text-anchor="start" fill="#111" stroke="#111" stroke-width="0.35">D</text>
<text x="91.5" y="181.6" font-size="8.8" font-weight="bold" text-anchor="middle" fill="#111">H929</text>
<line x1="41.2" y1="201.51" x2="41.2" y2="310.7" stroke="#2e2e2e" stroke-width="1.0"/>
<line x1="38" y1="201.51" x2="41.2" y2="201.51" stroke="#2e2e2e" stroke-width="1.0"/>
<text x="36.8" y="203.73" font-size="9.0" font-weight="normal" text-anchor="end" fill="#303030" stroke="#303030" stroke-width="0.15">300</text>
<line x1="38" y1="237.74" x2="41.2" y2="237.74" stroke="#2e2e2e" stroke-width="1.0"/>
<text x="36.8" y="239.96" font-size="9.0" font-weight="normal" text-anchor="end" fill="#303030" stroke="#303030" stroke-width="0.15">200</text>
<line x1="38" y1="273.97" x2="41.2" y2="273.97" stroke="#2e2e2e" stroke-width="1.0"/>
<text x="36.8" y="276.19" font-size="9.0" font-weight="normal" text-anchor="end" fill="#303030" stroke="#303030" stroke-width="0.15">100</text>
<line x1="38" y1="310.2" x2="41.2" y2="310.2" stroke="#2e2e2e" stroke-width="1.0"/>
<text x="36.8" y="312.42" font-size="9.0" font-weight="normal" text-anchor="end" fill="#303030" stroke="#303030" stroke-width="0.15">0</text>
<line x1="39.5" y1="306.58" x2="41.2" y2="306.58" stroke="#2e2e2e" stroke-width="0.7"/>
<line x1="39.5" y1="302.95" x2="41.2" y2="302.95" stroke="#2e2e2e" stroke-width="0.7"/>
<line x1="39.5" y1="299.33" x2="41.2" y2="299.33" stroke="#2e2e2e" stroke-width="0.7"/>
<line x1="39.5" y1="295.71" x2="41.2" y2="295.71" stroke="#2e2e2e" stroke-width="0.7"/>
<line x1="39.5" y1="292.09" x2="41.2" y2="292.09" stroke="#2e2e2e" stroke-width="0.7"/>
<line x1="39.5" y1="288.46" x2="41.2" y2="288.46" stroke="#2e2e2e" stroke-width="0.7"/>
<line x1="39.5" y1="284.84" x2="41.2" y2="284.84" stroke="#2e2e2e" stroke-width="0.7"/>
<line x1="39.5" y1="281.22" x2="41.2" y2="281.22" stroke="#2e2e2e" stroke-width="0.7"/>
<line x1="39.5" y1="277.59" x2="41.2" y2="277.59" stroke="#2e2e2e" stroke-width="0.7"/>
<line x1="39.5" y1="270.35" x2="41.2" y2="270.35" stroke="#2e2e2e" stroke-width="0.7"/>
<line x1="39.5" y1="266.72" x2="41.2" y2="266.72" stroke="#2e2e2e" stroke-width="0.7"/>
<line x1="39.5" y1="263.1" x2="41.2" y2="263.1" stroke="#2e2e2e" stroke-width="0.7"/>
<line x1="39.5" y1="259.48" x2="41.2" y2="259.48" stroke="#2e2e2e" stroke-width="0.7"/>
<line x1="39.5" y1="255.86" x2="41.2" y2="255.86" stroke="#2e2e2e" stroke-width="0.7"/>
<line x1="39.5" y1="252.23" x2="41.2" y2="252.23" stroke="#2e2e2e" stroke-width="0.7"/>
<line x1="39.5" y1="248.61" x2="41.2" y2="248.61" stroke="#2e2e2e" stroke-width="0.7"/>
<line x1="39.5" y1="244.99" x2="41.2" y2="244.99" stroke="#2e2e2e" stroke-width="0.7"/>
<line x1="39.5" y1="241.36" x2="41.2" y2="241.36" stroke="#2e2e2e" stroke-width="0.7"/>
<line x1="39.5" y1="234.12" x2="41.2" y2="234.12" stroke="#2e2e2e" stroke-width="0.7"/>
<line x1="39.5" y1="230.49" x2="41.2" y2="230.49" stroke="#2e2e2e" stroke-width="0.7"/>
<line x1="39.5" y1="226.87" x2="41.2" y2="226.87" stroke="#2e2e2e" stroke-width="0.7"/>
<line x1="39.5" y1="223.25" x2="41.2" y2="223.25" stroke="#2e2e2e" stroke-width="0.7"/>
<line x1="39.5" y1="219.63" x2="41.2" y2="219.63" stroke="#2e2e2e" stroke-width="0.7"/>
<line x1="39.5" y1="216" x2="41.2" y2="216" stroke="#2e2e2e" stroke-width="0.7"/>
<line x1="39.5" y1="212.38" x2="41.2" y2="212.38" stroke="#2e2e2e" stroke-width="0.7"/>
<line x1="39.5" y1="208.76" x2="41.2" y2="208.76" stroke="#2e2e2e" stroke-width="0.7"/>
<line x1="39.5" y1="205.13" x2="41.2" y2="205.13" stroke="#2e2e2e" stroke-width="0.7"/>
<line x1="40.7" y1="310.2" x2="137.5" y2="310.2" stroke="#2e2e2e" stroke-width="1.0"/>
<line x1="48.7" y1="310.2" x2="48.7" y2="313" stroke="#2e2e2e" stroke-width="1.0"/>
<text x="48.7" y="323.09" font-size="8.9" font-weight="normal" text-anchor="middle" fill="#303030" stroke="#303030" stroke-width="0.15">0</text>
<line x1="64.85" y1="310.2" x2="64.85" y2="313" stroke="#2e2e2e" stroke-width="1.0"/>
<text x="64.85" y="323.09" font-size="8.9" font-weight="normal" text-anchor="middle" fill="#303030" stroke="#303030" stroke-width="0.15">1</text>
<line x1="81" y1="310.2" x2="81" y2="313" stroke="#2e2e2e" stroke-width="1.0"/>
<text x="81" y="323.09" font-size="8.9" font-weight="normal" text-anchor="middle" fill="#303030" stroke="#303030" stroke-width="0.15">2</text>
<line x1="97.15" y1="310.2" x2="97.15" y2="313" stroke="#2e2e2e" stroke-width="1.0"/>
<text x="97.15" y="323.09" font-size="8.9" font-weight="normal" text-anchor="middle" fill="#303030" stroke="#303030" stroke-width="0.15">3</text>
<line x1="113.3" y1="310.2" x2="113.3" y2="313" stroke="#2e2e2e" stroke-width="1.0"/>
<text x="113.3" y="323.09" font-size="8.9" font-weight="normal" text-anchor="middle" fill="#303030" stroke="#303030" stroke-width="0.15">4</text>
<line x1="129.45" y1="310.2" x2="129.45" y2="313" stroke="#2e2e2e" stroke-width="1.0"/>
<text x="129.45" y="323.09" font-size="8.9" font-weight="normal" text-anchor="middle" fill="#303030" stroke="#303030" stroke-width="0.15">5</text>
<text x="86.77" y="331.6" font-size="8.45" font-weight="bold" text-anchor="middle" fill="#111">Time (d)</text>
<polyline points="48.7,292.5 64.85,288.3 81,275.8 97.15,277.3 113.3,271 129.45,261.3" fill="none" stroke="#e0202a" stroke-width="1.4" stroke-linejoin="round"/>
<circle cx="48.7" cy="292.5" r="1.7" fill="#e0202a"/>
<line x1="64.85" y1="282.5" x2="64.85" y2="295" stroke="#e0202a" stroke-width="1.15"/>
<line x1="62.85" y1="282.5" x2="66.85" y2="282.5" stroke="#e0202a" stroke-width="1.15"/>
<line x1="62.85" y1="295" x2="66.85" y2="295" stroke="#e0202a" stroke-width="1.15"/>
<circle cx="64.85" cy="288.3" r="1.7" fill="#e0202a"/>
<line x1="81" y1="269.6" x2="81" y2="281.9" stroke="#e0202a" stroke-width="1.15"/>
<line x1="79" y1="269.6" x2="83" y2="269.6" stroke="#e0202a" stroke-width="1.15"/>
<line x1="79" y1="281.9" x2="83" y2="281.9" stroke="#e0202a" stroke-width="1.15"/>
<circle cx="81" cy="275.8" r="1.7" fill="#e0202a"/>
<line x1="97.15" y1="268.5" x2="97.15" y2="287.3" stroke="#e0202a" stroke-width="1.15"/>
<line x1="95.15" y1="268.5" x2="99.15" y2="268.5" stroke="#e0202a" stroke-width="1.15"/>
<line x1="95.15" y1="287.3" x2="99.15" y2="287.3" stroke="#e0202a" stroke-width="1.15"/>
<circle cx="97.15" cy="277.3" r="1.7" fill="#e0202a"/>
<line x1="113.3" y1="266.5" x2="113.3" y2="276.2" stroke="#e0202a" stroke-width="1.15"/>
<line x1="111.3" y1="266.5" x2="115.3" y2="266.5" stroke="#e0202a" stroke-width="1.15"/>
<line x1="111.3" y1="276.2" x2="115.3" y2="276.2" stroke="#e0202a" stroke-width="1.15"/>
<circle cx="113.3" cy="271" r="1.7" fill="#e0202a"/>
<line x1="129.45" y1="253.7" x2="129.45" y2="269.6" stroke="#e0202a" stroke-width="1.15"/>
<line x1="127.45" y1="253.7" x2="131.45" y2="253.7" stroke="#e0202a" stroke-width="1.15"/>
<line x1="127.45" y1="269.6" x2="131.45" y2="269.6" stroke="#e0202a" stroke-width="1.15"/>
<circle cx="129.45" cy="261.3" r="1.7" fill="#e0202a"/>
<polyline points="48.7,292.5 64.85,280.6 81,261.3 97.15,249.8 113.3,235.4 129.45,225.4" fill="none" stroke="#25398a" stroke-width="1.4" stroke-linejoin="round"/>
<circle cx="48.7" cy="292.5" r="1.7" fill="#25398a"/>
<line x1="64.85" y1="272.3" x2="64.85" y2="288.3" stroke="#25398a" stroke-width="1.15"/>
<line x1="62.85" y1="272.3" x2="66.85" y2="272.3" stroke="#25398a" stroke-width="1.15"/>
<line x1="62.85" y1="288.3" x2="66.85" y2="288.3" stroke="#25398a" stroke-width="1.15"/>
<circle cx="64.85" cy="280.6" r="1.7" fill="#25398a"/>
<line x1="81" y1="256.5" x2="81" y2="266.2" stroke="#25398a" stroke-width="1.15"/>
<line x1="79" y1="256.5" x2="83" y2="256.5" stroke="#25398a" stroke-width="1.15"/>
<line x1="79" y1="266.2" x2="83" y2="266.2" stroke="#25398a" stroke-width="1.15"/>
<circle cx="81" cy="261.3" r="1.7" fill="#25398a"/>
<line x1="97.15" y1="247" x2="97.15" y2="252.7" stroke="#25398a" stroke-width="1.15"/>
<line x1="95.15" y1="247" x2="99.15" y2="247" stroke="#25398a" stroke-width="1.15"/>
<line x1="95.15" y1="252.7" x2="99.15" y2="252.7" stroke="#25398a" stroke-width="1.15"/>
<circle cx="97.15" cy="249.8" r="1.7" fill="#25398a"/>
<line x1="113.3" y1="225.8" x2="113.3" y2="244.6" stroke="#25398a" stroke-width="1.15"/>
<line x1="111.3" y1="225.8" x2="115.3" y2="225.8" stroke="#25398a" stroke-width="1.15"/>
<line x1="111.3" y1="244.6" x2="115.3" y2="244.6" stroke="#25398a" stroke-width="1.15"/>
<circle cx="113.3" cy="235.4" r="1.7" fill="#25398a"/>
<line x1="129.45" y1="222.9" x2="129.45" y2="227.7" stroke="#25398a" stroke-width="1.15"/>
<line x1="127.45" y1="222.9" x2="131.45" y2="222.9" stroke="#25398a" stroke-width="1.15"/>
<line x1="127.45" y1="227.7" x2="131.45" y2="227.7" stroke="#25398a" stroke-width="1.15"/>
<circle cx="129.45" cy="225.4" r="1.7" fill="#25398a"/>
<text x="99.6" y="261.87" font-size="6.9" font-weight="normal" text-anchor="start" fill="#303030" stroke="#303030" stroke-width="0.15"><tspan font-style="italic">P</tspan> = 0.02</text>
<line x1="80.8" y1="295" x2="88.2" y2="295" stroke="#25398a" stroke-width="1.1"/>
<circle cx="84.5" cy="295" r="1.5" fill="#25398a"/>
<text x="89.8" y="297.83" font-size="7.9" font-weight="normal" text-anchor="start" fill="#303030" stroke="#303030" stroke-width="0.15">scr</text>
<line x1="80.8" y1="304" x2="88.2" y2="304" stroke="#e0202a" stroke-width="1.1"/>
<circle cx="84.5" cy="304" r="1.5" fill="#e0202a"/>
<text x="89.8" y="306.83" font-size="7.9" font-weight="normal" text-anchor="start" fill="#303030" stroke="#303030" stroke-width="0.15">sh CD56</text>
<rect x="67.9" y="218" width="27.9" height="11.6" fill="#8f8f8f" stroke="none" stroke-width="0"/>
<text x="46.6" y="226.45" font-size="7.4" font-weight="normal" text-anchor="start" fill="#252525" stroke="#252525" stroke-width="0.12">CD56</text>
<rect x="71.5" y="223" width="8" height="2.8" rx="1.4" fill="#141414" fill-opacity="0.95" filter="url(#bl)"/>
<rect x="85.1" y="223.5" width="7" height="1.8" rx="0.9" fill="#141414" fill-opacity="0.55" filter="url(#bl)"/>
<rect x="67.9" y="231.6" width="27.9" height="11.9" fill="#8f8f8f" stroke="none" stroke-width="0"/>
<text x="46.6" y="240.2" font-size="7.4" font-weight="normal" text-anchor="start" fill="#252525" stroke="#252525" stroke-width="0.12">Actin</text>
<rect x="71.4" y="236.1" width="8.4" height="3" rx="1.5" fill="#141414" fill-opacity="0.95" filter="url(#bl)"/>
<rect x="84.6" y="236.1" width="8.4" height="3" rx="1.5" fill="#141414" fill-opacity="0.95" filter="url(#bl)"/>
<text x="78.5" y="215.4" font-size="6.5" font-weight="normal" text-anchor="start" fill="#252525" stroke="#252525" stroke-width="0.1" transform="rotate(-90 78.5 215.4)">scr</text>
<text x="91.9" y="215.4" font-size="6.5" font-weight="normal" text-anchor="start" fill="#252525" stroke="#252525" stroke-width="0.1" transform="rotate(-90 91.9 215.4)">sh CD56</text>
<text x="211.7" y="181.6" font-size="8.8" font-weight="bold" text-anchor="middle" fill="#111">OPM-2</text>
<line x1="155.1" y1="201.2" x2="155.1" y2="310.9" stroke="#2e2e2e" stroke-width="1.0"/>
<line x1="151.9" y1="201.2" x2="155.1" y2="201.2" stroke="#2e2e2e" stroke-width="1.0"/>
<text x="150.7" y="203.42" font-size="9.0" font-weight="normal" text-anchor="end" fill="#303030" stroke="#303030" stroke-width="0.15">300</text>
<line x1="151.9" y1="237.6" x2="155.1" y2="237.6" stroke="#2e2e2e" stroke-width="1.0"/>
<text x="150.7" y="239.82" font-size="9.0" font-weight="normal" text-anchor="end" fill="#303030" stroke="#303030" stroke-width="0.15">200</text>
<line x1="151.9" y1="274" x2="155.1" y2="274" stroke="#2e2e2e" stroke-width="1.0"/>
<text x="150.7" y="276.22" font-size="9.0" font-weight="normal" text-anchor="end" fill="#303030" stroke="#303030" stroke-width="0.15">100</text>
<line x1="151.9" y1="310.4" x2="155.1" y2="310.4" stroke="#2e2e2e" stroke-width="1.0"/>
<text x="150.7" y="312.62" font-size="9.0" font-weight="normal" text-anchor="end" fill="#303030" stroke="#303030" stroke-width="0.15">0</text>
<line x1="153.4" y1="306.76" x2="155.1" y2="306.76" stroke="#2e2e2e" stroke-width="0.7"/>
<line x1="153.4" y1="303.12" x2="155.1" y2="303.12" stroke="#2e2e2e" stroke-width="0.7"/>
<line x1="153.4" y1="299.48" x2="155.1" y2="299.48" stroke="#2e2e2e" stroke-width="0.7"/>
<line x1="153.4" y1="295.84" x2="155.1" y2="295.84" stroke="#2e2e2e" stroke-width="0.7"/>
<line x1="153.4" y1="292.2" x2="155.1" y2="292.2" stroke="#2e2e2e" stroke-width="0.7"/>
<line x1="153.4" y1="288.56" x2="155.1" y2="288.56" stroke="#2e2e2e" stroke-width="0.7"/>
<line x1="153.4" y1="284.92" x2="155.1" y2="284.92" stroke="#2e2e2e" stroke-width="0.7"/>
<line x1="153.4" y1="281.28" x2="155.1" y2="281.28" stroke="#2e2e2e" stroke-width="0.7"/>
<line x1="153.4" y1="277.64" x2="155.1" y2="277.64" stroke="#2e2e2e" stroke-width="0.7"/>
<line x1="153.4" y1="270.36" x2="155.1" y2="270.36" stroke="#2e2e2e" stroke-width="0.7"/>
<line x1="153.4" y1="266.72" x2="155.1" y2="266.72" stroke="#2e2e2e" stroke-width="0.7"/>
<line x1="153.4" y1="263.08" x2="155.1" y2="263.08" stroke="#2e2e2e" stroke-width="0.7"/>
<line x1="153.4" y1="259.44" x2="155.1" y2="259.44" stroke="#2e2e2e" stroke-width="0.7"/>
<line x1="153.4" y1="255.8" x2="155.1" y2="255.8" stroke="#2e2e2e" stroke-width="0.7"/>
<line x1="153.4" y1="252.16" x2="155.1" y2="252.16" stroke="#2e2e2e" stroke-width="0.7"/>
<line x1="153.4" y1="248.52" x2="155.1" y2="248.52" stroke="#2e2e2e" stroke-width="0.7"/>
<line x1="153.4" y1="244.88" x2="155.1" y2="244.88" stroke="#2e2e2e" stroke-width="0.7"/>
<line x1="153.4" y1="241.24" x2="155.1" y2="241.24" stroke="#2e2e2e" stroke-width="0.7"/>
<line x1="153.4" y1="233.96" x2="155.1" y2="233.96" stroke="#2e2e2e" stroke-width="0.7"/>
<line x1="153.4" y1="230.32" x2="155.1" y2="230.32" stroke="#2e2e2e" stroke-width="0.7"/>
<line x1="153.4" y1="226.68" x2="155.1" y2="226.68" stroke="#2e2e2e" stroke-width="0.7"/>
<line x1="153.4" y1="223.04" x2="155.1" y2="223.04" stroke="#2e2e2e" stroke-width="0.7"/>
<line x1="153.4" y1="219.4" x2="155.1" y2="219.4" stroke="#2e2e2e" stroke-width="0.7"/>
<line x1="153.4" y1="215.76" x2="155.1" y2="215.76" stroke="#2e2e2e" stroke-width="0.7"/>
<line x1="153.4" y1="212.12" x2="155.1" y2="212.12" stroke="#2e2e2e" stroke-width="0.7"/>
<line x1="153.4" y1="208.48" x2="155.1" y2="208.48" stroke="#2e2e2e" stroke-width="0.7"/>
<line x1="153.4" y1="204.84" x2="155.1" y2="204.84" stroke="#2e2e2e" stroke-width="0.7"/>
<line x1="154.6" y1="310.4" x2="252.5" y2="310.4" stroke="#2e2e2e" stroke-width="1.0"/>
<line x1="165.2" y1="310.4" x2="165.2" y2="313.2" stroke="#2e2e2e" stroke-width="1.0"/>
<text x="165.2" y="323.09" font-size="8.9" font-weight="normal" text-anchor="middle" fill="#303030" stroke="#303030" stroke-width="0.15">0</text>
<line x1="184.7" y1="310.4" x2="184.7" y2="313.2" stroke="#2e2e2e" stroke-width="1.0"/>
<text x="184.7" y="323.09" font-size="8.9" font-weight="normal" text-anchor="middle" fill="#303030" stroke="#303030" stroke-width="0.15">1</text>
<line x1="204.2" y1="310.4" x2="204.2" y2="313.2" stroke="#2e2e2e" stroke-width="1.0"/>
<text x="204.2" y="323.09" font-size="8.9" font-weight="normal" text-anchor="middle" fill="#303030" stroke="#303030" stroke-width="0.15">2</text>
<line x1="223.7" y1="310.4" x2="223.7" y2="313.2" stroke="#2e2e2e" stroke-width="1.0"/>
<text x="223.7" y="323.09" font-size="8.9" font-weight="normal" text-anchor="middle" fill="#303030" stroke="#303030" stroke-width="0.15">3</text>
<line x1="243.2" y1="310.4" x2="243.2" y2="313.2" stroke="#2e2e2e" stroke-width="1.0"/>
<text x="243.2" y="323.09" font-size="8.9" font-weight="normal" text-anchor="middle" fill="#303030" stroke="#303030" stroke-width="0.15">4</text>
<text x="201.9" y="331.6" font-size="8.45" font-weight="bold" text-anchor="middle" fill="#111">Time (d)</text>
<polyline points="165.2,274 184.7,277 204.2,278.7 223.7,285 243.2,288.8" fill="none" stroke="#e0202a" stroke-width="1.4" stroke-linejoin="round"/>
<circle cx="165.2" cy="274" r="1.7" fill="#e0202a"/>
<line x1="184.7" y1="271.3" x2="184.7" y2="284" stroke="#e0202a" stroke-width="1.15"/>
<line x1="182.7" y1="271.3" x2="186.7" y2="271.3" stroke="#e0202a" stroke-width="1.15"/>
<line x1="182.7" y1="284" x2="186.7" y2="284" stroke="#e0202a" stroke-width="1.15"/>
<circle cx="184.7" cy="277" r="1.7" fill="#e0202a"/>
<line x1="204.2" y1="271.3" x2="204.2" y2="289.2" stroke="#e0202a" stroke-width="1.15"/>
<line x1="202.2" y1="271.3" x2="206.2" y2="271.3" stroke="#e0202a" stroke-width="1.15"/>
<line x1="202.2" y1="289.2" x2="206.2" y2="289.2" stroke="#e0202a" stroke-width="1.15"/>
<circle cx="204.2" cy="278.7" r="1.7" fill="#e0202a"/>
<line x1="223.7" y1="278.2" x2="223.7" y2="291.8" stroke="#e0202a" stroke-width="1.15"/>
<line x1="221.7" y1="278.2" x2="225.7" y2="278.2" stroke="#e0202a" stroke-width="1.15"/>
<line x1="221.7" y1="291.8" x2="225.7" y2="291.8" stroke="#e0202a" stroke-width="1.15"/>
<circle cx="223.7" cy="285" r="1.7" fill="#e0202a"/>
<line x1="243.2" y1="286" x2="243.2" y2="291.3" stroke="#e0202a" stroke-width="1.15"/>
<line x1="241.2" y1="286" x2="245.2" y2="286" stroke="#e0202a" stroke-width="1.15"/>
<line x1="241.2" y1="291.3" x2="245.2" y2="291.3" stroke="#e0202a" stroke-width="1.15"/>
<circle cx="243.2" cy="288.8" r="1.7" fill="#e0202a"/>
<polyline points="165.2,274 184.7,269.6 204.2,262.2 223.7,244.6 243.2,228.4" fill="none" stroke="#25398a" stroke-width="1.4" stroke-linejoin="round"/>
<circle cx="165.2" cy="274" r="1.7" fill="#25398a"/>
<line x1="184.7" y1="264.3" x2="184.7" y2="274.4" stroke="#25398a" stroke-width="1.15"/>
<line x1="182.7" y1="264.3" x2="186.7" y2="264.3" stroke="#25398a" stroke-width="1.15"/>
<line x1="182.7" y1="274.4" x2="186.7" y2="274.4" stroke="#25398a" stroke-width="1.15"/>
<circle cx="184.7" cy="269.6" r="1.7" fill="#25398a"/>
<line x1="204.2" y1="254.3" x2="204.2" y2="270.2" stroke="#25398a" stroke-width="1.15"/>
<line x1="202.2" y1="254.3" x2="206.2" y2="254.3" stroke="#25398a" stroke-width="1.15"/>
<line x1="202.2" y1="270.2" x2="206.2" y2="270.2" stroke="#25398a" stroke-width="1.15"/>
<circle cx="204.2" cy="262.2" r="1.7" fill="#25398a"/>
<line x1="223.7" y1="232.9" x2="223.7" y2="256.2" stroke="#25398a" stroke-width="1.15"/>
<line x1="221.7" y1="232.9" x2="225.7" y2="232.9" stroke="#25398a" stroke-width="1.15"/>
<line x1="221.7" y1="256.2" x2="225.7" y2="256.2" stroke="#25398a" stroke-width="1.15"/>
<circle cx="223.7" cy="244.6" r="1.7" fill="#25398a"/>
<line x1="243.2" y1="215.5" x2="243.2" y2="241.3" stroke="#25398a" stroke-width="1.15"/>
<line x1="241.2" y1="215.5" x2="245.2" y2="215.5" stroke="#25398a" stroke-width="1.15"/>
<line x1="241.2" y1="241.3" x2="245.2" y2="241.3" stroke="#25398a" stroke-width="1.15"/>
<circle cx="243.2" cy="228.4" r="1.7" fill="#25398a"/>
<text x="223" y="265.77" font-size="6.9" font-weight="normal" text-anchor="start" fill="#303030" stroke="#303030" stroke-width="0.15"><tspan font-style="italic">P</tspan> = 0.02</text>
<line x1="174.5" y1="295.3" x2="183.5" y2="295.3" stroke="#25398a" stroke-width="1.1"/>
<circle cx="179" cy="295.3" r="1.5" fill="#25398a"/>
<text x="185" y="298.13" font-size="7.9" font-weight="normal" text-anchor="start" fill="#303030" stroke="#303030" stroke-width="0.15">scr</text>
<line x1="174.5" y1="304.5" x2="183.5" y2="304.5" stroke="#e0202a" stroke-width="1.1"/>
<circle cx="179" cy="304.5" r="1.5" fill="#e0202a"/>
<text x="185" y="307.33" font-size="7.9" font-weight="normal" text-anchor="start" fill="#303030" stroke="#303030" stroke-width="0.15">sh CD56</text>
<rect x="188.8" y="218" width="27.4" height="11.5" fill="#9a9a9a" stroke="none" stroke-width="0"/>
<text x="163.7" y="226.4" font-size="7.4" font-weight="normal" text-anchor="start" fill="#252525" stroke="#252525" stroke-width="0.12">CD56</text>
<rect x="192.1" y="222.8" width="7" height="2.4" rx="1.2" fill="#141414" fill-opacity="0.95" filter="url(#bl)"/>
<rect x="188.8" y="232" width="27.4" height="11.7" fill="#9a9a9a" stroke="none" stroke-width="0"/>
<text x="163.7" y="240.5" font-size="7.4" font-weight="normal" text-anchor="start" fill="#252525" stroke="#252525" stroke-width="0.12">Actin</text>
<rect x="192.1" y="236.9" width="8.2" height="2.6" rx="1.3" fill="#141414" fill-opacity="0.95" filter="url(#bl)"/>
<rect x="203.8" y="236.9" width="9" height="2.6" rx="1.3" fill="#141414" fill-opacity="0.95" filter="url(#bl)"/>
<text x="197.8" y="215" font-size="6.5" font-weight="normal" text-anchor="start" fill="#252525" stroke="#252525" stroke-width="0.1" transform="rotate(-90 197.8 215)">scr</text>
<text x="210.5" y="215" font-size="6.5" font-weight="normal" text-anchor="start" fill="#252525" stroke="#252525" stroke-width="0.1" transform="rotate(-90 210.5 215)">sh CD56</text>
<text x="324.9" y="181.6" font-size="8.8" font-weight="bold" text-anchor="middle" fill="#111">RPMI-8226</text>
<line x1="271.9" y1="200.8" x2="271.9" y2="311.1" stroke="#2e2e2e" stroke-width="1.0"/>
<line x1="268.7" y1="200.8" x2="271.9" y2="200.8" stroke="#2e2e2e" stroke-width="1.0"/>
<text x="267.5" y="203.02" font-size="9.0" font-weight="normal" text-anchor="end" fill="#303030" stroke="#303030" stroke-width="0.15">300</text>
<line x1="268.7" y1="237.4" x2="271.9" y2="237.4" stroke="#2e2e2e" stroke-width="1.0"/>
<text x="267.5" y="239.62" font-size="9.0" font-weight="normal" text-anchor="end" fill="#303030" stroke="#303030" stroke-width="0.15">200</text>
<line x1="268.7" y1="274" x2="271.9" y2="274" stroke="#2e2e2e" stroke-width="1.0"/>
<text x="267.5" y="276.22" font-size="9.0" font-weight="normal" text-anchor="end" fill="#303030" stroke="#303030" stroke-width="0.15">100</text>
<line x1="268.7" y1="310.6" x2="271.9" y2="310.6" stroke="#2e2e2e" stroke-width="1.0"/>
<text x="267.5" y="312.82" font-size="9.0" font-weight="normal" text-anchor="end" fill="#303030" stroke="#303030" stroke-width="0.15">0</text>
<line x1="270.2" y1="306.94" x2="271.9" y2="306.94" stroke="#2e2e2e" stroke-width="0.7"/>
<line x1="270.2" y1="303.28" x2="271.9" y2="303.28" stroke="#2e2e2e" stroke-width="0.7"/>
<line x1="270.2" y1="299.62" x2="271.9" y2="299.62" stroke="#2e2e2e" stroke-width="0.7"/>
<line x1="270.2" y1="295.96" x2="271.9" y2="295.96" stroke="#2e2e2e" stroke-width="0.7"/>
<line x1="270.2" y1="292.3" x2="271.9" y2="292.3" stroke="#2e2e2e" stroke-width="0.7"/>
<line x1="270.2" y1="288.64" x2="271.9" y2="288.64" stroke="#2e2e2e" stroke-width="0.7"/>
<line x1="270.2" y1="284.98" x2="271.9" y2="284.98" stroke="#2e2e2e" stroke-width="0.7"/>
<line x1="270.2" y1="281.32" x2="271.9" y2="281.32" stroke="#2e2e2e" stroke-width="0.7"/>
<line x1="270.2" y1="277.66" x2="271.9" y2="277.66" stroke="#2e2e2e" stroke-width="0.7"/>
<line x1="270.2" y1="270.34" x2="271.9" y2="270.34" stroke="#2e2e2e" stroke-width="0.7"/>
<line x1="270.2" y1="266.68" x2="271.9" y2="266.68" stroke="#2e2e2e" stroke-width="0.7"/>
<line x1="270.2" y1="263.02" x2="271.9" y2="263.02" stroke="#2e2e2e" stroke-width="0.7"/>
<line x1="270.2" y1="259.36" x2="271.9" y2="259.36" stroke="#2e2e2e" stroke-width="0.7"/>
<line x1="270.2" y1="255.7" x2="271.9" y2="255.7" stroke="#2e2e2e" stroke-width="0.7"/>
<line x1="270.2" y1="252.04" x2="271.9" y2="252.04" stroke="#2e2e2e" stroke-width="0.7"/>
<line x1="270.2" y1="248.38" x2="271.9" y2="248.38" stroke="#2e2e2e" stroke-width="0.7"/>
<line x1="270.2" y1="244.72" x2="271.9" y2="244.72" stroke="#2e2e2e" stroke-width="0.7"/>
<line x1="270.2" y1="241.06" x2="271.9" y2="241.06" stroke="#2e2e2e" stroke-width="0.7"/>
<line x1="270.2" y1="233.74" x2="271.9" y2="233.74" stroke="#2e2e2e" stroke-width="0.7"/>
<line x1="270.2" y1="230.08" x2="271.9" y2="230.08" stroke="#2e2e2e" stroke-width="0.7"/>
<line x1="270.2" y1="226.42" x2="271.9" y2="226.42" stroke="#2e2e2e" stroke-width="0.7"/>
<line x1="270.2" y1="222.76" x2="271.9" y2="222.76" stroke="#2e2e2e" stroke-width="0.7"/>
<line x1="270.2" y1="219.1" x2="271.9" y2="219.1" stroke="#2e2e2e" stroke-width="0.7"/>
<line x1="270.2" y1="215.44" x2="271.9" y2="215.44" stroke="#2e2e2e" stroke-width="0.7"/>
<line x1="270.2" y1="211.78" x2="271.9" y2="211.78" stroke="#2e2e2e" stroke-width="0.7"/>
<line x1="270.2" y1="208.12" x2="271.9" y2="208.12" stroke="#2e2e2e" stroke-width="0.7"/>
<line x1="270.2" y1="204.46" x2="271.9" y2="204.46" stroke="#2e2e2e" stroke-width="0.7"/>
<line x1="271.4" y1="310.6" x2="382" y2="310.6" stroke="#2e2e2e" stroke-width="1.0"/>
<line x1="285.3" y1="310.6" x2="285.3" y2="313.4" stroke="#2e2e2e" stroke-width="1.0"/>
<text x="285.3" y="323.09" font-size="8.9" font-weight="normal" text-anchor="middle" fill="#303030" stroke="#303030" stroke-width="0.15">0</text>
<line x1="312.2" y1="310.6" x2="312.2" y2="313.4" stroke="#2e2e2e" stroke-width="1.0"/>
<text x="312.2" y="323.09" font-size="8.9" font-weight="normal" text-anchor="middle" fill="#303030" stroke="#303030" stroke-width="0.15">1</text>
<line x1="339.1" y1="310.6" x2="339.1" y2="313.4" stroke="#2e2e2e" stroke-width="1.0"/>
<text x="339.1" y="323.09" font-size="8.9" font-weight="normal" text-anchor="middle" fill="#303030" stroke="#303030" stroke-width="0.15">2</text>
<line x1="366" y1="310.6" x2="366" y2="313.4" stroke="#2e2e2e" stroke-width="1.0"/>
<text x="366" y="323.09" font-size="8.9" font-weight="normal" text-anchor="middle" fill="#303030" stroke="#303030" stroke-width="0.15">3</text>
<text x="323.35" y="331.6" font-size="8.45" font-weight="bold" text-anchor="middle" fill="#111">Time (d)</text>
<polyline points="285.3,288.8 312.2,286.5 339.1,279.2 366,252.6" fill="none" stroke="#e0202a" stroke-width="1.4" stroke-linejoin="round"/>
<circle cx="285.3" cy="288.8" r="1.7" fill="#e0202a"/>
<line x1="312.2" y1="282.6" x2="312.2" y2="292.8" stroke="#e0202a" stroke-width="1.15"/>
<line x1="310.2" y1="282.6" x2="314.2" y2="282.6" stroke="#e0202a" stroke-width="1.15"/>
<line x1="310.2" y1="292.8" x2="314.2" y2="292.8" stroke="#e0202a" stroke-width="1.15"/>
<circle cx="312.2" cy="286.5" r="1.7" fill="#e0202a"/>
<line x1="339.1" y1="270.4" x2="339.1" y2="288.2" stroke="#e0202a" stroke-width="1.15"/>
<line x1="337.1" y1="270.4" x2="341.1" y2="270.4" stroke="#e0202a" stroke-width="1.15"/>
<line x1="337.1" y1="288.2" x2="341.1" y2="288.2" stroke="#e0202a" stroke-width="1.15"/>
<circle cx="339.1" cy="279.2" r="1.7" fill="#e0202a"/>
<line x1="366" y1="248.5" x2="366" y2="256.5" stroke="#e0202a" stroke-width="1.15"/>
<line x1="364" y1="248.5" x2="368" y2="248.5" stroke="#e0202a" stroke-width="1.15"/>
<line x1="364" y1="256.5" x2="368" y2="256.5" stroke="#e0202a" stroke-width="1.15"/>
<circle cx="366" cy="252.6" r="1.7" fill="#e0202a"/>
<polyline points="285.3,288.8 312.2,268.8 339.1,259.5 366,223.2" fill="none" stroke="#25398a" stroke-width="1.4" stroke-linejoin="round"/>
<line x1="285.3" y1="284.9" x2="285.3" y2="292.8" stroke="#25398a" stroke-width="1.15"/>
<line x1="283.3" y1="284.9" x2="287.3" y2="284.9" stroke="#25398a" stroke-width="1.15"/>
<line x1="283.3" y1="292.8" x2="287.3" y2="292.8" stroke="#25398a" stroke-width="1.15"/>
<circle cx="285.3" cy="288.8" r="1.7" fill="#25398a"/>
<line x1="312.2" y1="256.5" x2="312.2" y2="281.2" stroke="#25398a" stroke-width="1.15"/>
<line x1="310.2" y1="256.5" x2="314.2" y2="256.5" stroke="#25398a" stroke-width="1.15"/>
<line x1="310.2" y1="281.2" x2="314.2" y2="281.2" stroke="#25398a" stroke-width="1.15"/>
<circle cx="312.2" cy="268.8" r="1.7" fill="#25398a"/>
<line x1="339.1" y1="252.4" x2="339.1" y2="267.4" stroke="#25398a" stroke-width="1.15"/>
<line x1="337.1" y1="252.4" x2="341.1" y2="252.4" stroke="#25398a" stroke-width="1.15"/>
<line x1="337.1" y1="267.4" x2="341.1" y2="267.4" stroke="#25398a" stroke-width="1.15"/>
<circle cx="339.1" cy="259.5" r="1.7" fill="#25398a"/>
<line x1="366" y1="206.6" x2="366" y2="239.8" stroke="#25398a" stroke-width="1.15"/>
<line x1="364" y1="206.6" x2="368" y2="206.6" stroke="#25398a" stroke-width="1.15"/>
<line x1="364" y1="239.8" x2="368" y2="239.8" stroke="#25398a" stroke-width="1.15"/>
<circle cx="366" cy="223.2" r="1.7" fill="#25398a"/>
<text x="351.5" y="278.17" font-size="6.9" font-weight="normal" text-anchor="start" fill="#303030" stroke="#303030" stroke-width="0.15"><tspan font-style="italic">P</tspan> = 0.01</text>
<line x1="324.4" y1="295" x2="332.5" y2="295" stroke="#25398a" stroke-width="1.1"/>
<circle cx="328.45" cy="295" r="1.5" fill="#25398a"/>
<text x="336.8" y="297.83" font-size="7.9" font-weight="normal" text-anchor="start" fill="#303030" stroke="#303030" stroke-width="0.15">scr</text>
<line x1="324.4" y1="304.2" x2="332.5" y2="304.2" stroke="#e0202a" stroke-width="1.1"/>
<circle cx="328.45" cy="304.2" r="1.5" fill="#e0202a"/>
<text x="336.8" y="307.03" font-size="7.9" font-weight="normal" text-anchor="start" fill="#303030" stroke="#303030" stroke-width="0.15">sh CD56</text>
<rect x="306.5" y="219" width="28.4" height="10.8" fill="#a0a0a0" stroke="none" stroke-width="0"/>
<text x="282.5" y="227.05" font-size="7.4" font-weight="normal" text-anchor="start" fill="#252525" stroke="#252525" stroke-width="0.12">CD56</text>
<rect x="310.6" y="221.2" width="6.6" height="5.6" rx="2.8" fill="#141414" fill-opacity="0.97" filter="url(#bl)"/>
<rect x="323" y="221.3" width="5.2" height="4.2" rx="2.1" fill="#141414" fill-opacity="0.95" filter="url(#bl)"/>
<rect x="306.5" y="233" width="28.4" height="11.2" fill="#a0a0a0" stroke="none" stroke-width="0"/>
<text x="282.5" y="241.25" font-size="7.4" font-weight="normal" text-anchor="start" fill="#252525" stroke="#252525" stroke-width="0.12">Actin</text>
<rect x="310.1" y="238.5" width="7.6" height="1.8" rx="0.9" fill="#141414" fill-opacity="0.95" filter="url(#bl)"/>
<rect x="322" y="238.5" width="7.2" height="1.8" rx="0.9" fill="#141414" fill-opacity="0.95" filter="url(#bl)"/>
<text x="315.8" y="216.9" font-size="6.5" font-weight="normal" text-anchor="start" fill="#252525" stroke="#252525" stroke-width="0.1" transform="rotate(-90 315.8 216.9)">scr</text>
<text x="328" y="216.9" font-size="6.5" font-weight="normal" text-anchor="start" fill="#252525" stroke="#252525" stroke-width="0.1" transform="rotate(-90 328 216.9)">sh CD56</text>
<text x="18.5" y="285.3" font-size="7.75" font-weight="bold" text-anchor="start" fill="#111" transform="rotate(-90 18.5 285.3)">Cell number (*10<tspan font-size="5.3" dy="-3.0">3</tspan><tspan dy="3.0">)</tspan></text>
<text x="383.5" y="176.3" font-size="12.3" font-weight="bold" text-anchor="start" fill="#111" stroke="#111" stroke-width="0.35">E</text>
<line x1="419" y1="179.6" x2="419" y2="311.1" stroke="#2e2e2e" stroke-width="1.0"/>
<line x1="414.5" y1="179.6" x2="419" y2="179.6" stroke="#2e2e2e" stroke-width="1.0"/>
<text x="413.2" y="183.01" font-size="8.7" font-weight="normal" text-anchor="end" fill="#303030" stroke="#303030" stroke-width="0.15">50</text>
<line x1="414.5" y1="205.8" x2="419" y2="205.8" stroke="#2e2e2e" stroke-width="1.0"/>
<text x="413.2" y="209.21" font-size="8.7" font-weight="normal" text-anchor="end" fill="#303030" stroke="#303030" stroke-width="0.15">40</text>
<line x1="414.5" y1="232" x2="419" y2="232" stroke="#2e2e2e" stroke-width="1.0"/>
<text x="413.2" y="235.41" font-size="8.7" font-weight="normal" text-anchor="end" fill="#303030" stroke="#303030" stroke-width="0.15">30</text>
<line x1="414.5" y1="258.2" x2="419" y2="258.2" stroke="#2e2e2e" stroke-width="1.0"/>
<text x="413.2" y="261.61" font-size="8.7" font-weight="normal" text-anchor="end" fill="#303030" stroke="#303030" stroke-width="0.15">20</text>
<line x1="414.5" y1="284.4" x2="419" y2="284.4" stroke="#2e2e2e" stroke-width="1.0"/>
<text x="413.2" y="287.81" font-size="8.7" font-weight="normal" text-anchor="end" fill="#303030" stroke="#303030" stroke-width="0.15">10</text>
<line x1="414.5" y1="310.6" x2="419" y2="310.6" stroke="#2e2e2e" stroke-width="1.0"/>
<text x="413.2" y="314.01" font-size="8.7" font-weight="normal" text-anchor="end" fill="#303030" stroke="#303030" stroke-width="0.15">0</text>
<line x1="419" y1="310.6" x2="509" y2="310.6" stroke="#2e2e2e" stroke-width="1.0"/>
<text x="396.3" y="305.3" font-size="7.85" font-weight="bold" text-anchor="start" fill="#111" transform="rotate(-90 396.3 305.3)">Percentage of late apoptotic cells</text>
<text x="444.2" y="182.6" font-size="9.6" font-weight="bold" text-anchor="middle" fill="#111">H929</text>
<text x="489.3" y="182.6" font-size="9.5" font-weight="bold" text-anchor="middle" fill="#111">OPM-2</text>
<line x1="421.2" y1="187" x2="466.8" y2="187" stroke="#777" stroke-width="1.1"/>
<line x1="468.3" y1="187" x2="511" y2="187" stroke="#777" stroke-width="1.1"/>
<line x1="433.8" y1="264.49" x2="433.8" y2="268.94" stroke="#5a5a5a" stroke-width="1.0"/>
<line x1="430.4" y1="264.49" x2="437.2" y2="264.49" stroke="#5a5a5a" stroke-width="1.0"/>
<line x1="430.4" y1="268.94" x2="437.2" y2="268.94" stroke="#5a5a5a" stroke-width="1.0"/>
<rect x="426.5" y="268.94" width="14.6" height="41.66" fill="#060606" stroke="none" stroke-width="0"/>
<line x1="455.9" y1="205.01" x2="455.9" y2="233.83" stroke="#5a5a5a" stroke-width="1.0"/>
<line x1="452.5" y1="205.01" x2="459.3" y2="205.01" stroke="#5a5a5a" stroke-width="1.0"/>
<line x1="452.5" y1="233.83" x2="459.3" y2="233.83" stroke="#5a5a5a" stroke-width="1.0"/>
<rect x="448.6" y="233.83" width="14.6" height="76.77" fill="#060606" stroke="none" stroke-width="0"/>
<line x1="477.65" y1="246.67" x2="477.65" y2="270.25" stroke="#5a5a5a" stroke-width="1.0"/>
<line x1="474.25" y1="246.67" x2="481.05" y2="246.67" stroke="#5a5a5a" stroke-width="1.0"/>
<line x1="474.25" y1="270.25" x2="481.05" y2="270.25" stroke="#5a5a5a" stroke-width="1.0"/>
<rect x="470.4" y="270.25" width="14.5" height="40.35" fill="#060606" stroke="none" stroke-width="0"/>
<line x1="500.05" y1="224.93" x2="500.05" y2="233.57" stroke="#5a5a5a" stroke-width="1.0"/>
<line x1="496.65" y1="224.93" x2="503.45" y2="224.93" stroke="#5a5a5a" stroke-width="1.0"/>
<line x1="496.65" y1="233.57" x2="503.45" y2="233.57" stroke="#5a5a5a" stroke-width="1.0"/>
<rect x="492.8" y="233.57" width="14.5" height="77.03" fill="#060606" stroke="none" stroke-width="0"/>
<line x1="433.8" y1="310.6" x2="433.8" y2="313.4" stroke="#2e2e2e" stroke-width="1.0"/>
<line x1="455.9" y1="310.6" x2="455.9" y2="313.4" stroke="#2e2e2e" stroke-width="1.0"/>
<line x1="477.6" y1="310.6" x2="477.6" y2="313.4" stroke="#2e2e2e" stroke-width="1.0"/>
<line x1="500" y1="310.6" x2="500" y2="313.4" stroke="#2e2e2e" stroke-width="1.0"/>
<polyline points="433.8,258 433.8,197.8 456,197.8 456,205" fill="none" stroke="#555" stroke-width="0.9" stroke-linejoin="round"/>
<polyline points="477.6,244 477.6,216.3 500,216.3 500,224.5" fill="none" stroke="#555" stroke-width="0.9" stroke-linejoin="round"/>
<text x="444.4" y="198.96" font-size="11.0" font-weight="bold" text-anchor="middle" fill="#1a1a1a">*</text>
<text x="489.3" y="215.76" font-size="11.0" font-weight="bold" text-anchor="middle" fill="#1a1a1a">*</text>
<text x="432.3" y="323.58" font-size="7.5" font-weight="normal" text-anchor="middle" fill="#303030" stroke="#303030" stroke-width="0.15">scr</text>
<text x="440.4" y="323.58" font-size="7.5" font-weight="normal" text-anchor="start" fill="#303030" stroke="#303030" stroke-width="0.15">sh CD56</text>
<text x="471" y="323.58" font-size="7.5" font-weight="normal" text-anchor="start" fill="#303030" stroke="#303030" stroke-width="0.15">scr</text>
<text x="485.4" y="323.58" font-size="7.5" font-weight="normal" text-anchor="start" fill="#303030" stroke="#303030" stroke-width="0.15">sh CD56</text>
<text x="10.5" y="359" font-size="12.3" font-weight="bold" text-anchor="start" fill="#111" stroke="#111" stroke-width="0.35">F</text>
<text x="86" y="359" font-size="9.0" font-weight="bold" text-anchor="middle" fill="#111">U266</text>
<rect x="40.8" y="366.8" width="7.8" height="3.8" fill="#2a469c" stroke="none" stroke-width="0"/>
<text x="56.7" y="371.94" font-size="8.5" font-weight="normal" text-anchor="start" fill="#303030" stroke="#303030" stroke-width="0.15">CNT</text>
<rect x="80.4" y="366.8" width="8.1" height="3.8" fill="#e8192a" stroke="none" stroke-width="0"/>
<text x="92.6" y="372.05" font-size="8.8" font-weight="normal" text-anchor="start" fill="#303030" stroke="#303030" stroke-width="0.15">CD56</text>
<line x1="40.4" y1="379.9" x2="40.4" y2="500.2" stroke="#2e2e2e" stroke-width="1.0"/>
<line x1="37.2" y1="394.25" x2="40.4" y2="394.25" stroke="#2e2e2e" stroke-width="1.0"/>
<text x="36" y="395.96" font-size="8.7" font-weight="normal" text-anchor="end" fill="#303030" stroke="#303030" stroke-width="0.15">1.5</text>
<line x1="37.2" y1="429.4" x2="40.4" y2="429.4" stroke="#2e2e2e" stroke-width="1.0"/>
<text x="36" y="431.11" font-size="8.7" font-weight="normal" text-anchor="end" fill="#303030" stroke="#303030" stroke-width="0.15">1.0</text>
<line x1="37.2" y1="464.55" x2="40.4" y2="464.55" stroke="#2e2e2e" stroke-width="1.0"/>
<text x="36" y="466.26" font-size="8.7" font-weight="normal" text-anchor="end" fill="#303030" stroke="#303030" stroke-width="0.15">0.5</text>
<line x1="37.2" y1="499.7" x2="40.4" y2="499.7" stroke="#2e2e2e" stroke-width="1.0"/>
<text x="36" y="501.41" font-size="8.7" font-weight="normal" text-anchor="end" fill="#303030" stroke="#303030" stroke-width="0.15">0</text>
<line x1="38.7" y1="496.19" x2="40.4" y2="496.19" stroke="#2e2e2e" stroke-width="0.7"/>
<line x1="38.7" y1="492.67" x2="40.4" y2="492.67" stroke="#2e2e2e" stroke-width="0.7"/>
<line x1="38.7" y1="489.16" x2="40.4" y2="489.16" stroke="#2e2e2e" stroke-width="0.7"/>
<line x1="38.7" y1="485.64" x2="40.4" y2="485.64" stroke="#2e2e2e" stroke-width="0.7"/>
<line x1="38.7" y1="482.13" x2="40.4" y2="482.13" stroke="#2e2e2e" stroke-width="0.7"/>
<line x1="38.7" y1="478.61" x2="40.4" y2="478.61" stroke="#2e2e2e" stroke-width="0.7"/>
<line x1="38.7" y1="475.1" x2="40.4" y2="475.1" stroke="#2e2e2e" stroke-width="0.7"/>
<line x1="38.7" y1="471.58" x2="40.4" y2="471.58" stroke="#2e2e2e" stroke-width="0.7"/>
<line x1="38.7" y1="468.07" x2="40.4" y2="468.07" stroke="#2e2e2e" stroke-width="0.7"/>
<line x1="38.7" y1="461.04" x2="40.4" y2="461.04" stroke="#2e2e2e" stroke-width="0.7"/>
<line x1="38.7" y1="457.52" x2="40.4" y2="457.52" stroke="#2e2e2e" stroke-width="0.7"/>
<line x1="38.7" y1="454.01" x2="40.4" y2="454.01" stroke="#2e2e2e" stroke-width="0.7"/>
<line x1="38.7" y1="450.49" x2="40.4" y2="450.49" stroke="#2e2e2e" stroke-width="0.7"/>
<line x1="38.7" y1="446.98" x2="40.4" y2="446.98" stroke="#2e2e2e" stroke-width="0.7"/>
<line x1="38.7" y1="443.46" x2="40.4" y2="443.46" stroke="#2e2e2e" stroke-width="0.7"/>
<line x1="38.7" y1="439.95" x2="40.4" y2="439.95" stroke="#2e2e2e" stroke-width="0.7"/>
<line x1="38.7" y1="436.43" x2="40.4" y2="436.43" stroke="#2e2e2e" stroke-width="0.7"/>
<line x1="38.7" y1="432.92" x2="40.4" y2="432.92" stroke="#2e2e2e" stroke-width="0.7"/>
<line x1="38.7" y1="425.89" x2="40.4" y2="425.89" stroke="#2e2e2e" stroke-width="0.7"/>
<line x1="38.7" y1="422.37" x2="40.4" y2="422.37" stroke="#2e2e2e" stroke-width="0.7"/>
<line x1="38.7" y1="418.86" x2="40.4" y2="418.86" stroke="#2e2e2e" stroke-width="0.7"/>
<line x1="38.7" y1="415.34" x2="40.4" y2="415.34" stroke="#2e2e2e" stroke-width="0.7"/>
<line x1="38.7" y1="411.83" x2="40.4" y2="411.83" stroke="#2e2e2e" stroke-width="0.7"/>
<line x1="38.7" y1="408.31" x2="40.4" y2="408.31" stroke="#2e2e2e" stroke-width="0.7"/>
<line x1="38.7" y1="404.8" x2="40.4" y2="404.8" stroke="#2e2e2e" stroke-width="0.7"/>
<line x1="38.7" y1="401.28" x2="40.4" y2="401.28" stroke="#2e2e2e" stroke-width="0.7"/>
<line x1="38.7" y1="397.77" x2="40.4" y2="397.77" stroke="#2e2e2e" stroke-width="0.7"/>
<line x1="38.7" y1="390.74" x2="40.4" y2="390.74" stroke="#2e2e2e" stroke-width="0.7"/>
<line x1="38.7" y1="387.22" x2="40.4" y2="387.22" stroke="#2e2e2e" stroke-width="0.7"/>
<line x1="38.7" y1="383.71" x2="40.4" y2="383.71" stroke="#2e2e2e" stroke-width="0.7"/>
<line x1="38.7" y1="380.19" x2="40.4" y2="380.19" stroke="#2e2e2e" stroke-width="0.7"/>
<line x1="40.2" y1="499.7" x2="115.6" y2="499.7" stroke="#2e2e2e" stroke-width="1.0"/>
<line x1="57.7" y1="499.7" x2="57.7" y2="502.5" stroke="#2e2e2e" stroke-width="1.0"/>
<line x1="98.1" y1="499.7" x2="98.1" y2="502.5" stroke="#2e2e2e" stroke-width="1.0"/>
<text x="57.4" y="512.66" font-size="8.0" font-weight="normal" text-anchor="middle" fill="#303030" stroke="#303030" stroke-width="0.15">HS-5</text>
<text x="99.9" y="512.66" font-size="8.0" font-weight="normal" text-anchor="middle" fill="#303030" stroke="#303030" stroke-width="0.15">FN</text>
<text x="18.2" y="472.3" font-size="8.4" font-weight="bold" text-anchor="start" fill="#111" transform="rotate(-90 18.2 472.3)">Adhesion ratio (a.u.)</text>
<rect x="46.2" y="429.4" width="9.9" height="70.3" fill="#2a469c" stroke="none" stroke-width="0"/>
<rect x="61.2" y="402.8" width="10.1" height="96.9" fill="#e8192a" stroke="none" stroke-width="0"/>
<rect x="86.5" y="429.4" width="10" height="70.3" fill="#2a469c" stroke="none" stroke-width="0"/>
<rect x="101.5" y="396.5" width="10.4" height="103.2" fill="#e8192a" stroke="none" stroke-width="0"/>
<line x1="66.25" y1="398.8" x2="66.25" y2="405" stroke="#3a3030" stroke-width="1.0"/>
<line x1="63.95" y1="398.8" x2="68.55" y2="398.8" stroke="#3a3030" stroke-width="1.0"/>
<line x1="63.95" y1="405" x2="68.55" y2="405" stroke="#3a3030" stroke-width="1.0"/>
<line x1="106.7" y1="388.5" x2="106.7" y2="399" stroke="#3a3030" stroke-width="1.0"/>
<line x1="104.4" y1="388.5" x2="109" y2="388.5" stroke="#3a3030" stroke-width="1.0"/>
<line x1="104.4" y1="399" x2="109" y2="399" stroke="#3a3030" stroke-width="1.0"/>
<polyline points="51,428.5 51,382.7 66.9,382.7 66.9,398" fill="none" stroke="#444" stroke-width="0.9" stroke-linejoin="round"/>
<polyline points="90.2,428.5 90.2,382.7 106.4,382.7 106.4,388" fill="none" stroke="#444" stroke-width="0.9" stroke-linejoin="round"/>
<text x="60" y="382.76" font-size="11.0" font-weight="bold" text-anchor="middle" fill="#1a1a1a">*</text>
<text x="98.8" y="382.76" font-size="11.0" font-weight="bold" text-anchor="middle" fill="#1a1a1a">*</text>
<text x="128.6" y="359" font-size="12.3" font-weight="bold" text-anchor="start" fill="#111" stroke="#111" stroke-width="0.35">G</text>
<text x="193" y="359" font-size="9.0" font-weight="bold" text-anchor="middle" fill="#111">U266</text>
<rect x="155.7" y="367.2" width="7.5" height="3.8" fill="#2a469c" stroke="none" stroke-width="0"/>
<text x="171.6" y="371.94" font-size="8.5" font-weight="normal" text-anchor="start" fill="#303030" stroke="#303030" stroke-width="0.15">CNT</text>
<rect x="195.2" y="367.2" width="8.1" height="3.8" fill="#e8192a" stroke="none" stroke-width="0"/>
<text x="207.8" y="372.05" font-size="8.8" font-weight="normal" text-anchor="start" fill="#303030" stroke="#303030" stroke-width="0.15">CD56</text>
<line x1="147.6" y1="381.08" x2="147.6" y2="500.8" stroke="#2e2e2e" stroke-width="1.0"/>
<line x1="142.6" y1="381.08" x2="147.6" y2="381.08" stroke="#2e2e2e" stroke-width="1.0"/>
<text x="141" y="383.4" font-size="9.0" font-weight="normal" text-anchor="end" fill="#303030" stroke="#303030" stroke-width="0.15">6.0</text>
<line x1="142.6" y1="420.82" x2="147.6" y2="420.82" stroke="#2e2e2e" stroke-width="1.0"/>
<text x="141" y="423.14" font-size="9.0" font-weight="normal" text-anchor="end" fill="#303030" stroke="#303030" stroke-width="0.15">4.0</text>
<line x1="142.6" y1="460.56" x2="147.6" y2="460.56" stroke="#2e2e2e" stroke-width="1.0"/>
<text x="141" y="462.88" font-size="9.0" font-weight="normal" text-anchor="end" fill="#303030" stroke="#303030" stroke-width="0.15">2.0</text>
<line x1="142.6" y1="500.3" x2="147.6" y2="500.3" stroke="#2e2e2e" stroke-width="1.0"/>
<text x="141" y="502.62" font-size="9.0" font-weight="normal" text-anchor="end" fill="#303030" stroke="#303030" stroke-width="0.15">0</text>
<line x1="147.2" y1="500.3" x2="233.5" y2="500.3" stroke="#2e2e2e" stroke-width="1.0"/>
<line x1="170.3" y1="500.3" x2="170.3" y2="503" stroke="#2e2e2e" stroke-width="1.0"/>
<line x1="210" y1="500.3" x2="210" y2="503" stroke="#2e2e2e" stroke-width="1.0"/>
<text x="169.2" y="512.5" font-size="8.1" font-weight="normal" text-anchor="middle" fill="#303030" stroke="#303030" stroke-width="0.15">BMSC-204</text>
<text x="213.9" y="512.5" font-size="8.1" font-weight="normal" text-anchor="middle" fill="#303030" stroke="#303030" stroke-width="0.15">BMSC-509</text>
<rect x="154.2" y="480.43" width="13.1" height="19.87" fill="#2a469c" stroke="none" stroke-width="0"/>
<rect x="174.2" y="455.8" width="12.7" height="44.5" fill="#e8192a" stroke="none" stroke-width="0"/>
<rect x="193.9" y="480.43" width="13.1" height="19.87" fill="#2a469c" stroke="none" stroke-width="0"/>
<rect x="213.5" y="413.4" width="12.7" height="86.9" fill="#e8192a" stroke="none" stroke-width="0"/>
<line x1="180.55" y1="453.3" x2="180.55" y2="457.5" stroke="#3a3030" stroke-width="1.0"/>
<line x1="177.85" y1="453.3" x2="183.25" y2="453.3" stroke="#3a3030" stroke-width="1.0"/>
<line x1="177.85" y1="457.5" x2="183.25" y2="457.5" stroke="#3a3030" stroke-width="1.0"/>
<line x1="219.85" y1="402.8" x2="219.85" y2="416" stroke="#3a3030" stroke-width="1.0"/>
<line x1="217.15" y1="402.8" x2="222.55" y2="402.8" stroke="#3a3030" stroke-width="1.0"/>
<line x1="217.15" y1="416" x2="222.55" y2="416" stroke="#3a3030" stroke-width="1.0"/>
<polyline points="160.4,477.7 160.4,441.9 181.2,441.9 181.2,452.8" fill="none" stroke="#444" stroke-width="0.9" stroke-linejoin="round"/>
<polyline points="200.3,475.4 200.3,389.2 219.7,389.2 219.7,402.5" fill="none" stroke="#444" stroke-width="0.9" stroke-linejoin="round"/>
<text x="170.3" y="439.36" font-size="11.0" font-weight="bold" text-anchor="middle" fill="#1a1a1a">**</text>
<text x="212.8" y="387.66" font-size="11.0" font-weight="bold" text-anchor="middle" fill="#1a1a1a">*</text>
<text x="240" y="359" font-size="12.3" font-weight="bold" text-anchor="start" fill="#111" stroke="#111" stroke-width="0.35">H</text>
<text x="304.6" y="359" font-size="9.0" font-weight="bold" text-anchor="middle" fill="#111">H929</text>
<rect x="276.8" y="367.3" width="8.1" height="3.7" fill="#2a469c" stroke="none" stroke-width="0"/>
<text x="288" y="372.28" font-size="8.6" font-weight="normal" text-anchor="start" fill="#303030" stroke="#303030" stroke-width="0.15">scr</text>
<rect x="303.5" y="367.3" width="8.1" height="3.7" fill="#e8192a" stroke="none" stroke-width="0"/>
<text x="315.9" y="372.39" font-size="8.9" font-weight="normal" text-anchor="start" fill="#303030" stroke="#303030" stroke-width="0.15">sh CD56</text>
<line x1="270.5" y1="377.5" x2="270.5" y2="501.9" stroke="#2e2e2e" stroke-width="1.0"/>
<line x1="267.3" y1="398.5" x2="270.5" y2="398.5" stroke="#2e2e2e" stroke-width="1.0"/>
<text x="265.6" y="403.81" font-size="8.7" font-weight="normal" text-anchor="end" fill="#303030" stroke="#303030" stroke-width="0.15">1.0</text>
<line x1="267.3" y1="449.95" x2="270.5" y2="449.95" stroke="#2e2e2e" stroke-width="1.0"/>
<text x="265.6" y="455.26" font-size="8.7" font-weight="normal" text-anchor="end" fill="#303030" stroke="#303030" stroke-width="0.15">0.5</text>
<line x1="267.3" y1="501.4" x2="270.5" y2="501.4" stroke="#2e2e2e" stroke-width="1.0"/>
<text x="265.6" y="506.71" font-size="8.7" font-weight="normal" text-anchor="end" fill="#303030" stroke="#303030" stroke-width="0.15">0</text>
<line x1="268.8" y1="496.25" x2="270.5" y2="496.25" stroke="#2e2e2e" stroke-width="0.7"/>
<line x1="268.8" y1="491.11" x2="270.5" y2="491.11" stroke="#2e2e2e" stroke-width="0.7"/>
<line x1="268.8" y1="485.97" x2="270.5" y2="485.97" stroke="#2e2e2e" stroke-width="0.7"/>
<line x1="268.8" y1="480.82" x2="270.5" y2="480.82" stroke="#2e2e2e" stroke-width="0.7"/>
<line x1="268.8" y1="475.68" x2="270.5" y2="475.68" stroke="#2e2e2e" stroke-width="0.7"/>
<line x1="268.8" y1="470.53" x2="270.5" y2="470.53" stroke="#2e2e2e" stroke-width="0.7"/>
<line x1="268.8" y1="465.39" x2="270.5" y2="465.39" stroke="#2e2e2e" stroke-width="0.7"/>
<line x1="268.8" y1="460.24" x2="270.5" y2="460.24" stroke="#2e2e2e" stroke-width="0.7"/>
<line x1="268.8" y1="455.1" x2="270.5" y2="455.1" stroke="#2e2e2e" stroke-width="0.7"/>
<line x1="268.8" y1="444.81" x2="270.5" y2="444.81" stroke="#2e2e2e" stroke-width="0.7"/>
<line x1="268.8" y1="439.66" x2="270.5" y2="439.66" stroke="#2e2e2e" stroke-width="0.7"/>
<line x1="268.8" y1="434.52" x2="270.5" y2="434.52" stroke="#2e2e2e" stroke-width="0.7"/>
<line x1="268.8" y1="429.37" x2="270.5" y2="429.37" stroke="#2e2e2e" stroke-width="0.7"/>
<line x1="268.8" y1="424.23" x2="270.5" y2="424.23" stroke="#2e2e2e" stroke-width="0.7"/>
<line x1="268.8" y1="419.08" x2="270.5" y2="419.08" stroke="#2e2e2e" stroke-width="0.7"/>
<line x1="268.8" y1="413.94" x2="270.5" y2="413.94" stroke="#2e2e2e" stroke-width="0.7"/>
<line x1="268.8" y1="408.79" x2="270.5" y2="408.79" stroke="#2e2e2e" stroke-width="0.7"/>
<line x1="268.8" y1="403.65" x2="270.5" y2="403.65" stroke="#2e2e2e" stroke-width="0.7"/>
<line x1="268.8" y1="393.36" x2="270.5" y2="393.36" stroke="#2e2e2e" stroke-width="0.7"/>
<line x1="268.8" y1="388.21" x2="270.5" y2="388.21" stroke="#2e2e2e" stroke-width="0.7"/>
<line x1="268.8" y1="383.07" x2="270.5" y2="383.07" stroke="#2e2e2e" stroke-width="0.7"/>
<line x1="268.8" y1="377.92" x2="270.5" y2="377.92" stroke="#2e2e2e" stroke-width="0.7"/>
<line x1="270.5" y1="501.4" x2="358.5" y2="501.4" stroke="#2e2e2e" stroke-width="1.0"/>
<text x="245.3" y="472.2" font-size="8.65" font-weight="bold" text-anchor="start" fill="#111" transform="rotate(-90 245.3 472.2)">Adhesion ratio (a.u.)</text>
<rect x="274.2" y="398.5" width="8" height="102.9" fill="#2a469c" stroke="none" stroke-width="0"/>
<rect x="305" y="398.5" width="8.2" height="102.9" fill="#2a469c" stroke="none" stroke-width="0"/>
<rect x="336" y="398.5" width="8.1" height="102.9" fill="#2a469c" stroke="none" stroke-width="0"/>
<rect x="285.7" y="441.2" width="8.1" height="60.2" fill="#e8192a" stroke="none" stroke-width="0"/>
<line x1="289.75" y1="437.1" x2="289.75" y2="444.2" stroke="#3a3030" stroke-width="0.9"/>
<line x1="287.85" y1="437.1" x2="291.65" y2="437.1" stroke="#3a3030" stroke-width="0.9"/>
<line x1="287.85" y1="444.2" x2="291.65" y2="444.2" stroke="#3a3030" stroke-width="0.9"/>
<rect x="316.8" y="429.5" width="8.1" height="71.9" fill="#e8192a" stroke="none" stroke-width="0"/>
<line x1="320.85" y1="425.1" x2="320.85" y2="432.5" stroke="#3a3030" stroke-width="0.9"/>
<line x1="318.95" y1="425.1" x2="322.75" y2="425.1" stroke="#3a3030" stroke-width="0.9"/>
<line x1="318.95" y1="432.5" x2="322.75" y2="432.5" stroke="#3a3030" stroke-width="0.9"/>
<rect x="347.7" y="447.2" width="7.9" height="54.2" fill="#e8192a" stroke="none" stroke-width="0"/>
<line x1="351.65" y1="434" x2="351.65" y2="450.2" stroke="#3a3030" stroke-width="0.9"/>
<line x1="349.75" y1="434" x2="353.55" y2="434" stroke="#3a3030" stroke-width="0.9"/>
<line x1="349.75" y1="450.2" x2="353.55" y2="450.2" stroke="#3a3030" stroke-width="0.9"/>
<polyline points="277.5,394 277.5,388.1 289.7,388.1 289.7,436.8" fill="none" stroke="#444" stroke-width="0.9" stroke-linejoin="round"/>
<polyline points="308.4,394 308.4,388.1 320.4,388.1 320.4,424.8" fill="none" stroke="#444" stroke-width="0.9" stroke-linejoin="round"/>
<polyline points="338.9,394 338.9,388.1 350.9,388.1 350.9,433.8" fill="none" stroke="#444" stroke-width="0.9" stroke-linejoin="round"/>
<text x="283.7" y="388.08" font-size="10.5" font-weight="bold" text-anchor="middle" fill="#1a1a1a">**</text>
<text x="314.4" y="388.08" font-size="10.5" font-weight="bold" text-anchor="middle" fill="#1a1a1a">**</text>
<text x="344.9" y="388.08" font-size="10.5" font-weight="bold" text-anchor="middle" fill="#1a1a1a">*</text>
<line x1="283.7" y1="501.4" x2="283.7" y2="504" stroke="#2e2e2e" stroke-width="1.0"/>
<line x1="314.6" y1="501.4" x2="314.6" y2="504" stroke="#2e2e2e" stroke-width="1.0"/>
<line x1="345.4" y1="501.4" x2="345.4" y2="504" stroke="#2e2e2e" stroke-width="1.0"/>
<text x="287.2" y="512.66" font-size="8.0" font-weight="normal" text-anchor="middle" fill="#303030" stroke="#303030" stroke-width="0.15">HS-5</text>
<text x="317.8" y="512.66" font-size="8.0" font-weight="normal" text-anchor="middle" fill="#303030" stroke="#303030" stroke-width="0.15">BMSCs</text>
<text x="344.3" y="512.66" font-size="8.0" font-weight="normal" text-anchor="middle" fill="#303030" stroke="#303030" stroke-width="0.15">FN</text>
<text x="373.4" y="358.6" font-size="12.3" font-weight="bold" text-anchor="start" fill="#111" stroke="#111" stroke-width="0.35">I</text>
<text x="433.2" y="359.4" font-size="9.2" font-weight="bold" text-anchor="middle" fill="#111">U266</text>
<text x="503.2" y="359.4" font-size="9.2" font-weight="bold" text-anchor="middle" fill="#111">H929</text>
<line x1="415.2" y1="362.5" x2="450.5" y2="362.5" stroke="#333" stroke-width="1.0"/>
<line x1="486.6" y1="362.5" x2="520" y2="362.5" stroke="#333" stroke-width="1.0"/>
<text x="427.9" y="396.8" font-size="7.9" font-weight="normal" text-anchor="start" fill="#222" stroke="#222" stroke-width="0.12" transform="rotate(-90 427.9 396.8)">CNT</text>
<text x="442.2" y="396.8" font-size="7.9" font-weight="normal" text-anchor="start" fill="#222" stroke="#222" stroke-width="0.12" transform="rotate(-90 442.2 396.8)">CD56</text>
<text x="497.9" y="396.8" font-size="7.9" font-weight="normal" text-anchor="start" fill="#222" stroke="#222" stroke-width="0.12" transform="rotate(-90 497.9 396.8)">scr</text>
<text x="513.5" y="396.8" font-size="7.9" font-weight="normal" text-anchor="start" fill="#222" stroke="#222" stroke-width="0.12" transform="rotate(-90 513.5 396.8)">sh CD56</text>
<rect x="414.9" y="399.9" width="32.8" height="13.8" fill="#8f8f8f" stroke="none" stroke-width="0"/>
<text x="386.6" y="409.66" font-size="8.0" font-weight="normal" text-anchor="start" fill="#252525" stroke="#252525" stroke-width="0.12">CD56</text>
<rect x="422.2" y="407.25" width="6" height="1.5" rx="0.75" fill="#141414" fill-opacity="0.1" filter="url(#bl)"/>
<rect x="433.25" y="404.5" width="11.5" height="8" rx="1.5" fill="#141414" fill-opacity="0.95" filter="url(#bl)"/>
<rect x="414.9" y="416.6" width="32.8" height="12.8" fill="#8f8f8f" stroke="none" stroke-width="0"/>
<text x="386.6" y="425.86" font-size="8.0" font-weight="normal" text-anchor="start" fill="#252525" stroke="#252525" stroke-width="0.12">Actin</text>
<rect x="419.75" y="420.6" width="10.5" height="3" rx="1.5" fill="#141414" fill-opacity="0.95" filter="url(#bl)"/>
<rect x="433.35" y="421" width="10.5" height="2.6" rx="1.3" fill="#141414" fill-opacity="0.9" filter="url(#bl)"/>
<rect x="414.9" y="434.5" width="32.8" height="16.9" fill="#8f8f8f" stroke="none" stroke-width="0"/>
<text x="386.6" y="445.81" font-size="8.0" font-weight="normal" text-anchor="start" fill="#252525" stroke="#252525" stroke-width="0.12">p-FAK1</text>
<rect x="420.5" y="441.5" width="8" height="3" rx="1.5" fill="#141414" fill-opacity="0.22" filter="url(#bl)"/>
<rect x="432.95" y="439.75" width="10.5" height="6.5" rx="1.5" fill="#141414" fill-opacity="0.95" filter="url(#bl)"/>
<rect x="414.9" y="453.4" width="32.8" height="12.9" fill="#8f8f8f" stroke="none" stroke-width="0"/>
<text x="386.6" y="462.71" font-size="8.0" font-weight="normal" text-anchor="start" fill="#252525" stroke="#252525" stroke-width="0.12">FAK1</text>
<rect x="419.3" y="456.8" width="10" height="1.8" rx="0.9" fill="#141414" fill-opacity="0.8" filter="url(#bl)"/>
<rect x="433.35" y="457.9" width="10.5" height="2.8" rx="1.4" fill="#141414" fill-opacity="0.85" filter="url(#bl)"/>
<rect x="414.9" y="470.2" width="32.8" height="19.2" fill="#8f8f8f" stroke="none" stroke-width="0"/>
<text x="386.6" y="482.66" font-size="8.0" font-weight="normal" text-anchor="start" fill="#252525" stroke="#252525" stroke-width="0.12">p-SRC</text>
<rect x="419" y="474" width="10" height="1.8" rx="0.9" fill="#141414" fill-opacity="0.75" filter="url(#bl)"/>
<rect x="419" y="477.2" width="10" height="2.6" rx="1.3" fill="#141414" fill-opacity="0.9" filter="url(#bl)"/>
<rect x="433" y="473.45" width="11.6" height="12.5" rx="2.5" fill="#141414" fill-opacity="0.95" filter="url(#bl)"/>
<rect x="414.9" y="491.3" width="32.8" height="16.3" fill="#8f8f8f" stroke="none" stroke-width="0"/>
<text x="386.6" y="502.31" font-size="8.0" font-weight="normal" text-anchor="start" fill="#252525" stroke="#252525" stroke-width="0.12">SRC</text>
<rect x="418.75" y="498.1" width="10.5" height="3.4" rx="1.7" fill="#141414" fill-opacity="0.9" filter="url(#bl)"/>
<rect x="433.6" y="499.05" width="10" height="2.5" rx="1.25" fill="#141414" fill-opacity="0.75" filter="url(#bl)"/>
<rect x="414.9" y="509.4" width="32.8" height="16" fill="#8f8f8f" stroke="none" stroke-width="0"/>
<text x="386.6" y="520.26" font-size="8.0" font-weight="normal" text-anchor="start" fill="#252525" stroke="#252525" stroke-width="0.12">Vinculin</text>
<rect x="418.45" y="514.5" width="11.5" height="5" rx="2.5" fill="#141414" fill-opacity="0.92" filter="url(#bl)"/>
<rect x="432.85" y="514.5" width="11.5" height="5" rx="2.5" fill="#141414" fill-opacity="0.92" filter="url(#bl)"/>
<rect x="486.2" y="399.9" width="34.8" height="13.8" fill="#8f8f8f" stroke="none" stroke-width="0"/>
<text x="456.5" y="409.66" font-size="8.0" font-weight="normal" text-anchor="start" fill="#252525" stroke="#252525" stroke-width="0.12">CD56</text>
<rect x="491.5" y="405.6" width="11" height="4" rx="2" fill="#141414" fill-opacity="0.92" filter="url(#bl)"/>
<rect x="508.5" y="407.25" width="6" height="1.5" rx="0.75" fill="#141414" fill-opacity="0.15" filter="url(#bl)"/>
<rect x="486.2" y="415.9" width="34.8" height="16.7" fill="#8f8f8f" stroke="none" stroke-width="0"/>
<text x="456.5" y="427.11" font-size="8.0" font-weight="normal" text-anchor="start" fill="#252525" stroke="#252525" stroke-width="0.12">p-FAK1</text>
<rect x="490" y="420.5" width="11" height="4" rx="2" fill="#141414" fill-opacity="0.45" filter="url(#bl)"/>
<rect x="490" y="426.2" width="11" height="4" rx="2" fill="#141414" fill-opacity="0.6" filter="url(#bl)"/>
<rect x="508" y="425" width="6" height="2" rx="1" fill="#141414" fill-opacity="0.12" filter="url(#bl)"/>
<rect x="486.2" y="436.5" width="34.8" height="14.2" fill="#8f8f8f" stroke="none" stroke-width="0"/>
<text x="456.5" y="446.46" font-size="8.0" font-weight="normal" text-anchor="start" fill="#252525" stroke="#252525" stroke-width="0.12">FAK1</text>
<rect x="491.25" y="441.1" width="10.5" height="2.6" rx="1.3" fill="#141414" fill-opacity="0.85" filter="url(#bl)"/>
<rect x="505.5" y="441.3" width="10" height="2.4" rx="1.2" fill="#141414" fill-opacity="0.8" filter="url(#bl)"/>
<rect x="486.2" y="453.3" width="34.8" height="16.8" fill="#8f8f8f" stroke="none" stroke-width="0"/>
<text x="456.5" y="464.56" font-size="8.0" font-weight="normal" text-anchor="start" fill="#252525" stroke="#252525" stroke-width="0.12">p-SRC</text>
<rect x="490.75" y="459" width="10.5" height="2.6" rx="1.3" fill="#141414" fill-opacity="0.9" filter="url(#bl)"/>
<rect x="508.5" y="459.75" width="5" height="1.5" rx="0.75" fill="#141414" fill-opacity="0.1" filter="url(#bl)"/>
<rect x="486.2" y="473.2" width="34.8" height="16.3" fill="#8f8f8f" stroke="none" stroke-width="0"/>
<text x="456.5" y="484.21" font-size="8.0" font-weight="normal" text-anchor="start" fill="#252525" stroke="#252525" stroke-width="0.12">SRC</text>
<rect x="490.75" y="480.4" width="10.5" height="3" rx="1.5" fill="#141414" fill-opacity="0.9" filter="url(#bl)"/>
<rect x="506.5" y="480" width="8" height="3" rx="1.5" fill="#141414" fill-opacity="0.85" filter="url(#bl)"/>
<rect x="486.2" y="493.8" width="34.8" height="14.5" fill="#8f8f8f" stroke="none" stroke-width="0"/>
<text x="456.5" y="503.91" font-size="8.0" font-weight="normal" text-anchor="start" fill="#252525" stroke="#252525" stroke-width="0.12">Actin</text>
<rect x="490.55" y="498.1" width="12.5" height="6" rx="3" fill="#141414" fill-opacity="0.95" filter="url(#bl)"/>
<rect x="505.45" y="498.1" width="11.5" height="6" rx="3" fill="#141414" fill-opacity="0.95" filter="url(#bl)"/>
</svg></body></html>
